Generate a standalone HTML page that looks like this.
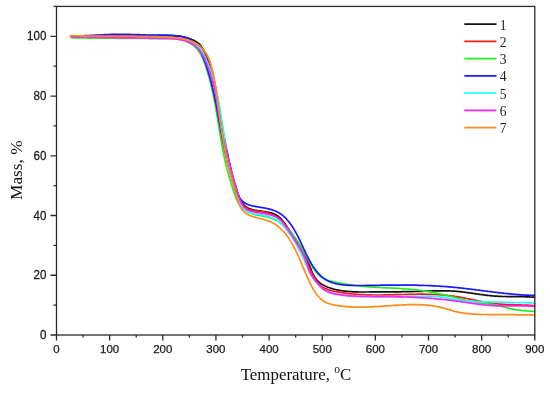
<!DOCTYPE html>
<html><head><meta charset="utf-8"><style>
html,body{margin:0;padding:0;background:#fff;}
svg{display:block;}
.tl{font-family:"Liberation Sans",Arial,sans-serif;font-size:11.6px;fill:#1a1a1a;stroke:#1a1a1a;stroke-width:0.25px;}
.ti{font-family:"Liberation Serif","Times New Roman",serif;font-size:16.9px;fill:#111;}
.lg{font-family:"Liberation Serif","Times New Roman",serif;font-size:13.6px;fill:#222;}
</style></head><body>
<svg width="550" height="393" viewBox="0 0 550 393">
<rect width="550" height="393" fill="#fff"/>

<path d="M70.7,36.1 71.5,36.1 72.2,36.1 72.9,36.0 73.6,36.0 74.3,36.0 75.0,36.0 75.7,35.9 76.4,35.9 77.1,35.9 77.8,35.9 78.5,35.9 79.2,35.9 79.9,35.8 80.7,35.8 81.4,35.8 82.1,35.8 82.8,35.8 83.5,35.8 84.2,35.8 84.9,35.7 85.6,35.7 86.3,35.7 87.0,35.7 87.7,35.7 88.4,35.7 89.1,35.7 89.8,35.7 90.5,35.7 91.2,35.7 91.9,35.6 92.6,35.6 93.3,35.6 94.0,35.6 94.7,35.6 95.4,35.6 96.1,35.6 96.8,35.6 97.5,35.6 98.2,35.6 98.9,35.6 99.6,35.6 100.3,35.6 101.0,35.6 101.7,35.6 102.5,35.6 103.2,35.6 103.9,35.6 104.6,35.6 105.3,35.6 106.0,35.6 106.7,35.6 107.4,35.6 108.1,35.6 108.8,35.6 109.5,35.6 110.2,35.6 110.9,35.6 111.6,35.6 112.3,35.6 113.0,35.6 113.7,35.6 114.4,35.6 115.1,35.6 115.8,35.6 116.5,35.6 117.2,35.6 117.9,35.6 118.6,35.6 119.3,35.6 120.0,35.6 120.7,35.6 121.4,35.6 122.1,35.6 122.8,35.6 123.5,35.6 124.2,35.6 124.9,35.6 125.6,35.6 126.3,35.6 127.0,35.7 127.7,35.7 128.4,35.7 129.1,35.7 129.8,35.7 130.5,35.7 131.2,35.7 131.9,35.7 132.6,35.7 133.3,35.7 134.0,35.7 134.7,35.7 135.4,35.7 136.1,35.7 136.8,35.7 137.5,35.7 138.2,35.7 138.9,35.7 139.6,35.7 140.3,35.7 141.0,35.7 141.7,35.7 142.4,35.7 143.1,35.7 143.8,35.7 144.5,35.7 145.2,35.7 145.9,35.7 146.6,35.7 147.4,35.7 148.1,35.7 148.8,35.7 149.5,35.7 150.2,35.7 150.9,35.7 151.6,35.7 152.3,35.7 153.0,35.7 153.7,35.7 154.4,35.7 155.1,35.7 155.8,35.7 156.5,35.7 157.2,35.7 157.9,35.7 158.7,35.7 159.4,35.7 160.1,35.7 160.8,35.6 161.5,35.6 162.2,35.6 162.9,35.6 163.6,35.6 164.3,35.6 165.0,35.6 165.7,35.6 166.5,35.6 167.2,35.6 167.9,35.6 168.6,35.6 169.3,35.6 170.0,35.6 170.7,35.7 171.4,35.7 172.1,35.7 172.8,35.7 173.5,35.8 174.2,35.8 174.9,35.8 175.6,35.9 176.3,36.0 177.0,36.0 177.7,36.1 178.4,36.2 179.1,36.2 179.8,36.3 180.5,36.4 181.1,36.5 181.8,36.6 182.5,36.8 183.2,36.9 183.9,37.0 184.5,37.2 185.2,37.3 185.9,37.5 186.6,37.7 187.2,37.9 187.9,38.0 188.6,38.3 189.2,38.5 189.9,38.7 190.5,38.9 191.2,39.2 191.8,39.5 192.5,39.7 193.1,40.0 193.8,40.3 194.4,40.7 195.0,41.0 195.6,41.3 196.2,41.7 196.8,42.1 197.4,42.5 198.0,42.9 198.5,43.3 199.1,43.8 199.6,44.3 200.0,44.8 200.5,45.3 200.9,45.8 201.3,46.4 201.7,47.0 202.1,47.5 202.4,48.1 202.8,48.8 203.1,49.4 203.4,50.0 203.7,50.7 204.0,51.3 204.3,51.9 204.6,52.6 204.9,53.2 205.1,53.9 205.4,54.5 205.7,55.2 206.0,55.9 206.3,56.5 206.5,57.2 206.8,57.8 207.1,58.5 207.3,59.1 207.6,59.8 207.8,60.4 208.1,61.1 208.3,61.8 208.6,62.4 208.8,63.1 209.1,63.8 209.3,64.4 209.6,65.1 209.8,65.7 210.0,66.4 210.2,67.1 210.5,67.7 210.7,68.4 210.9,69.1 211.1,69.8 211.3,70.4 211.5,71.1 211.7,71.8 211.9,72.4 212.1,73.1 212.3,73.8 212.5,74.5 212.7,75.1 212.9,75.8 213.1,76.5 213.2,77.2 213.4,77.9 213.6,78.5 213.8,79.2 213.9,79.9 214.1,80.6 214.3,81.3 214.4,81.9 214.6,82.6 214.7,83.3 214.9,84.0 215.0,84.7 215.2,85.4 215.3,86.0 215.5,86.7 215.6,87.4 215.7,88.1 215.9,88.8 216.0,89.5 216.2,90.2 216.3,90.8 216.4,91.5 216.5,92.2 216.7,92.9 216.8,93.6 216.9,94.3 217.1,95.0 217.2,95.7 217.3,96.4 217.4,97.0 217.5,97.7 217.7,98.4 217.8,99.1 217.9,99.8 218.0,100.5 218.1,101.2 218.2,101.9 218.3,102.6 218.5,103.3 218.6,104.0 218.7,104.7 218.8,105.4 218.9,106.1 219.0,106.7 219.1,107.4 219.2,108.1 219.4,108.8 219.5,109.5 219.6,110.2 219.7,110.9 219.8,111.6 219.9,112.3 220.0,113.0 220.1,113.7 220.3,114.4 220.4,115.1 220.5,115.8 220.6,116.5 220.7,117.2 220.8,117.9 220.9,118.6 221.1,119.3 221.2,119.9 221.3,120.6 221.4,121.3 221.5,122.0 221.6,122.7 221.8,123.4 221.9,124.1 222.0,124.8 222.1,125.5 222.2,126.2 222.4,126.9 222.5,127.6 222.6,128.3 222.7,129.0 222.8,129.7 223.0,130.4 223.1,131.1 223.2,131.7 223.3,132.4 223.5,133.1 223.6,133.8 223.7,134.5 223.8,135.2 224.0,135.9 224.1,136.6 224.2,137.3 224.3,138.0 224.5,138.7 224.6,139.4 224.7,140.0 224.9,140.7 225.0,141.4 225.1,142.1 225.3,142.8 225.4,143.5 225.5,144.2 225.7,144.9 225.8,145.6 225.9,146.2 226.1,146.9 226.2,147.6 226.3,148.3 226.5,149.0 226.6,149.7 226.8,150.4 226.9,151.0 227.0,151.7 227.2,152.4 227.3,153.1 227.5,153.8 227.6,154.5 227.8,155.1 227.9,155.8 228.1,156.5 228.2,157.2 228.4,157.9 228.5,158.6 228.7,159.2 228.8,159.9 229.0,160.6 229.1,161.3 229.3,162.0 229.5,162.6 229.6,163.3 229.8,164.0 229.9,164.7 230.1,165.4 230.3,166.0 230.4,166.7 230.6,167.4 230.8,168.1 230.9,168.8 231.1,169.4 231.3,170.1 231.4,170.8 231.6,171.5 231.8,172.2 232.0,172.8 232.1,173.5 232.3,174.2 232.5,174.9 232.7,175.6 232.9,176.2 233.0,176.9 233.2,177.6 233.4,178.3 233.6,179.0 233.8,179.6 234.0,180.3 234.2,181.0 234.4,181.7 234.6,182.4 234.8,183.1 235.0,183.7 235.2,184.4 235.4,185.1 235.6,185.8 235.8,186.5 236.0,187.2 236.2,187.9 236.4,188.5 236.6,189.2 236.8,189.9 237.0,190.6 237.2,191.3 237.5,192.0 237.7,192.7 237.9,193.4 238.1,194.0 238.4,194.7 238.6,195.4 238.9,196.1 239.1,196.7 239.4,197.4 239.6,198.0 239.9,198.7 240.2,199.3 240.5,199.9 240.8,200.5 241.1,201.1 241.5,201.7 241.8,202.3 242.2,202.8 242.6,203.4 243.0,203.9 243.4,204.4 243.8,204.9 244.3,205.3 244.7,205.8 245.2,206.2 245.7,206.6 246.3,207.0 246.8,207.3 247.4,207.7 248.0,208.0 248.6,208.3 249.2,208.6 249.9,208.8 250.5,209.0 251.2,209.3 251.9,209.5 252.5,209.7 253.2,209.8 253.9,210.0 254.7,210.2 255.4,210.3 256.1,210.4 256.8,210.6 257.6,210.7 258.3,210.8 259.1,210.9 259.8,211.0 260.5,211.1 261.3,211.2 262.0,211.3 262.7,211.4 263.5,211.5 264.2,211.6 264.9,211.7 265.6,211.8 266.4,211.9 267.1,212.0 267.8,212.2 268.5,212.3 269.2,212.4 269.8,212.6 270.5,212.8 271.2,212.9 271.8,213.1 272.5,213.3 273.1,213.6 273.7,213.8 274.3,214.1 274.9,214.3 275.5,214.6 276.1,214.9 276.7,215.3 277.2,215.7 277.8,216.0 278.3,216.4 278.8,216.9 279.3,217.3 279.8,217.7 280.3,218.2 280.8,218.7 281.3,219.2 281.7,219.7 282.2,220.2 282.6,220.8 283.1,221.3 283.5,221.9 283.9,222.4 284.4,223.0 284.8,223.6 285.2,224.1 285.6,224.7 286.0,225.3 286.4,225.9 286.8,226.5 287.3,227.1 287.7,227.7 288.1,228.3 288.5,228.8 288.9,229.4 289.3,230.0 289.7,230.6 290.1,231.2 290.5,231.8 290.9,232.4 291.3,232.9 291.7,233.5 292.1,234.1 292.5,234.7 292.9,235.3 293.3,235.9 293.7,236.5 294.1,237.0 294.5,237.6 294.9,238.2 295.3,238.8 295.6,239.4 296.0,240.0 296.4,240.6 296.8,241.1 297.2,241.7 297.5,242.3 297.9,242.9 298.3,243.5 298.7,244.1 299.0,244.7 299.4,245.3 299.8,245.9 300.1,246.5 300.5,247.1 300.8,247.7 301.2,248.3 301.5,248.9 301.9,249.5 302.2,250.1 302.5,250.7 302.9,251.3 303.2,251.9 303.5,252.5 303.9,253.1 304.2,253.7 304.5,254.3 304.8,255.0 305.1,255.6 305.4,256.2 305.8,256.8 306.1,257.5 306.3,258.1 306.6,258.7 306.9,259.3 307.2,260.0 307.5,260.6 307.8,261.3 308.0,261.9 308.3,262.5 308.6,263.2 308.8,263.8 309.1,264.5 309.3,265.1 309.6,265.8 309.9,266.5 310.1,267.1 310.4,267.8 310.6,268.4 310.9,269.1 311.2,269.8 311.5,270.5 311.7,271.1 312.0,271.8 312.3,272.5 312.6,273.1 313.0,273.8 313.3,274.4 313.6,275.1 314.0,275.7 314.3,276.4 314.7,277.0 315.1,277.6 315.5,278.2 315.9,278.8 316.3,279.3 316.7,279.8 317.2,280.4 317.7,280.9 318.2,281.4 318.7,281.8 319.2,282.3 319.7,282.7 320.2,283.1 320.8,283.5 321.3,283.9 321.9,284.3 322.5,284.6 323.1,285.0 323.7,285.3 324.3,285.6 324.9,285.9 325.5,286.2 326.2,286.5 326.8,286.8 327.5,287.1 328.1,287.3 328.8,287.5 329.4,287.8 330.1,288.0 330.7,288.2 331.4,288.4 332.1,288.6 332.7,288.8 333.4,289.0 334.1,289.2 334.8,289.3 335.4,289.5 336.1,289.7 336.8,289.8 337.5,290.0 338.2,290.1 338.8,290.2 339.5,290.3 340.2,290.5 340.9,290.6 341.6,290.7 342.3,290.8 343.0,290.9 343.7,291.0 344.4,291.1 345.1,291.1 345.7,291.2 346.4,291.3 347.1,291.4 347.8,291.4 348.5,291.5 349.2,291.5 349.9,291.6 350.6,291.6 351.3,291.7 352.0,291.7 352.7,291.8 353.5,291.8 354.2,291.8 354.9,291.9 355.6,291.9 356.3,291.9 357.0,291.9 357.7,291.9 358.4,292.0 359.1,292.0 359.8,292.0 360.5,292.0 361.2,292.0 361.9,292.0 362.6,292.0 363.4,292.0 364.1,292.0 364.8,292.0 365.5,292.0 366.2,292.0 366.9,292.0 367.6,292.0 368.3,292.0 369.0,292.0 369.7,292.0 370.4,291.9 371.1,291.9 371.9,291.9 372.6,291.9 373.3,291.9 374.0,291.9 374.7,291.9 375.4,291.9 376.1,291.9 376.8,291.9 377.5,291.9 378.2,291.9 378.9,291.9 379.6,291.9 380.3,291.9 381.0,291.9 381.7,291.9 382.4,291.9 383.1,291.9 383.8,291.9 384.5,291.9 385.2,291.9 385.9,291.9 386.6,291.8 387.3,291.8 388.0,291.8 388.7,291.8 389.4,291.8 390.2,291.8 390.9,291.8 391.6,291.8 392.3,291.8 393.0,291.8 393.7,291.8 394.4,291.8 395.1,291.8 395.8,291.8 396.5,291.8 397.2,291.8 397.9,291.8 398.6,291.8 399.3,291.8 400.0,291.8 400.7,291.8 401.3,291.8 402.0,291.7 402.7,291.7 403.4,291.7 404.1,291.7 404.8,291.7 405.5,291.7 406.2,291.7 406.9,291.7 407.6,291.7 408.3,291.7 409.0,291.6 409.7,291.6 410.4,291.6 411.1,291.6 411.8,291.6 412.5,291.6 413.3,291.5 414.0,291.5 414.7,291.5 415.4,291.5 416.1,291.5 416.8,291.5 417.5,291.4 418.2,291.4 418.9,291.4 419.6,291.4 420.3,291.3 421.0,291.3 421.7,291.3 422.4,291.3 423.1,291.2 423.8,291.2 424.5,291.2 425.2,291.2 425.9,291.1 426.6,291.1 427.3,291.1 428.0,291.1 428.7,291.0 429.4,291.0 430.1,291.0 430.8,291.0 431.5,291.0 432.2,290.9 432.9,290.9 433.6,290.9 434.3,290.9 435.0,290.9 435.7,290.8 436.5,290.8 437.2,290.8 437.9,290.8 438.6,290.8 439.3,290.8 440.0,290.8 440.7,290.8 441.4,290.8 442.1,290.8 442.8,290.8 443.5,290.8 444.2,290.8 444.9,290.8 445.6,290.8 446.3,290.8 447.0,290.8 447.7,290.9 448.4,290.9 449.1,290.9 449.8,290.9 450.5,291.0 451.2,291.0 451.9,291.0 452.6,291.1 453.3,291.1 454.0,291.2 454.7,291.2 455.4,291.3 456.1,291.3 456.8,291.4 457.5,291.4 458.2,291.5 458.9,291.6 459.6,291.6 460.3,291.7 461.0,291.8 461.7,291.9 462.4,291.9 463.1,292.0 463.8,292.1 464.5,292.2 465.2,292.3 465.9,292.4 466.6,292.5 467.3,292.6 468.0,292.7 468.7,292.8 469.4,292.9 470.1,292.9 470.7,293.0 471.4,293.1 472.1,293.2 472.8,293.3 473.5,293.5 474.2,293.6 474.9,293.7 475.6,293.8 476.3,293.9 477.0,294.0 477.7,294.1 478.4,294.2 479.1,294.3 479.8,294.4 480.5,294.5 481.2,294.6 481.9,294.7 482.6,294.7 483.3,294.8 484.0,294.9 484.7,295.0 485.4,295.1 486.1,295.2 486.8,295.3 487.5,295.4 488.2,295.4 488.9,295.5 489.6,295.6 490.2,295.7 490.9,295.7 491.6,295.8 492.3,295.9 493.0,295.9 493.7,296.0 494.4,296.1 495.1,296.1 495.8,296.2 496.5,296.2 497.2,296.2 498.0,296.3 498.7,296.3 499.4,296.4 500.1,296.4 500.8,296.4 501.5,296.4 502.2,296.5 502.9,296.5 503.6,296.5 504.3,296.5 505.0,296.5 505.7,296.5 506.4,296.6 507.1,296.6 507.8,296.6 508.5,296.6 509.2,296.6 509.9,296.6 510.6,296.6 511.3,296.6 512.0,296.6 512.7,296.6 513.4,296.6 514.1,296.6 514.8,296.6 515.5,296.6 516.2,296.6 516.9,296.6 517.7,296.6 518.4,296.6 519.1,296.7 519.8,296.7 520.5,296.7 521.2,296.7 521.9,296.7 522.6,296.7 523.3,296.7 524.0,296.7 524.7,296.7 525.4,296.8 526.1,296.8 526.8,296.8 527.5,296.8 528.2,296.9 528.9,296.9 529.6,296.9 530.3,297.0 531.0,297.0 531.7,297.0 532.4,297.1 533.1,297.1 533.8,297.2 534.5,297.3" fill="none" stroke="#111111" stroke-width="1.7" stroke-linejoin="round" stroke-linecap="round"/>
<path d="M70.8,36.6 71.5,36.6 72.2,36.6 72.9,36.6 73.6,36.6 74.3,36.7 75.0,36.7 75.7,36.7 76.4,36.7 77.1,36.7 77.8,36.7 78.5,36.7 79.2,36.7 80.0,36.7 80.7,36.7 81.4,36.7 82.1,36.8 82.8,36.8 83.5,36.8 84.2,36.8 84.9,36.8 85.6,36.8 86.3,36.8 87.0,36.8 87.7,36.8 88.4,36.8 89.1,36.8 89.8,36.9 90.5,36.9 91.2,36.9 91.9,36.9 92.6,36.9 93.3,36.9 94.0,36.9 94.7,36.9 95.4,36.9 96.1,36.9 96.8,36.9 97.6,37.0 98.3,37.0 99.0,37.0 99.7,37.0 100.4,37.0 101.1,37.0 101.8,37.0 102.5,37.0 103.2,37.0 103.9,37.0 104.6,37.0 105.3,37.0 106.0,37.1 106.7,37.1 107.4,37.1 108.1,37.1 108.8,37.1 109.5,37.1 110.2,37.1 110.9,37.1 111.6,37.1 112.3,37.1 113.0,37.1 113.8,37.1 114.5,37.1 115.2,37.2 115.9,37.2 116.6,37.2 117.3,37.2 118.0,37.2 118.7,37.2 119.4,37.2 120.1,37.2 120.8,37.2 121.5,37.2 122.2,37.2 122.9,37.2 123.6,37.2 124.3,37.3 125.0,37.3 125.7,37.3 126.4,37.3 127.1,37.3 127.8,37.3 128.5,37.3 129.2,37.3 130.0,37.3 130.7,37.3 131.4,37.3 132.1,37.3 132.8,37.3 133.5,37.3 134.2,37.4 134.9,37.4 135.6,37.4 136.3,37.4 137.0,37.4 137.7,37.4 138.4,37.4 139.1,37.4 139.8,37.4 140.5,37.4 141.2,37.4 141.9,37.4 142.6,37.4 143.3,37.4 144.0,37.5 144.7,37.5 145.4,37.5 146.1,37.5 146.9,37.5 147.6,37.5 148.3,37.5 149.0,37.5 149.7,37.5 150.4,37.5 151.1,37.5 151.8,37.5 152.5,37.5 153.2,37.5 153.9,37.5 154.6,37.6 155.3,37.6 156.0,37.6 156.7,37.6 157.4,37.6 158.1,37.6 158.8,37.6 159.5,37.6 160.2,37.6 160.9,37.6 161.6,37.6 162.3,37.6 163.0,37.6 163.7,37.6 164.4,37.6 165.1,37.6 165.9,37.6 166.6,37.7 167.3,37.7 168.0,37.7 168.7,37.7 169.4,37.7 170.1,37.7 170.8,37.7 171.5,37.7 172.2,37.8 172.9,37.8 173.6,37.8 174.3,37.9 175.0,37.9 175.7,37.9 176.4,38.0 177.1,38.1 177.8,38.1 178.5,38.2 179.2,38.3 179.9,38.3 180.6,38.4 181.3,38.5 182.0,38.6 182.7,38.8 183.4,38.9 184.1,39.0 184.8,39.2 185.5,39.3 186.2,39.5 186.9,39.7 187.5,39.9 188.2,40.1 188.9,40.3 189.6,40.5 190.2,40.7 190.9,41.0 191.6,41.2 192.2,41.5 192.9,41.8 193.5,42.1 194.1,42.4 194.7,42.8 195.3,43.1 195.9,43.5 196.5,43.9 197.1,44.2 197.7,44.7 198.2,45.1 198.7,45.5 199.3,46.0 199.8,46.4 200.3,46.9 200.8,47.4 201.3,47.9 201.7,48.4 202.2,48.9 202.6,49.5 203.1,50.0 203.5,50.6 203.9,51.1 204.3,51.7 204.7,52.3 205.1,52.8 205.5,53.4 205.8,54.0 206.2,54.6 206.5,55.3 206.8,55.9 207.2,56.5 207.5,57.1 207.8,57.8 208.1,58.4 208.3,59.0 208.6,59.7 208.9,60.3 209.1,61.0 209.4,61.6 209.6,62.3 209.8,63.0 210.1,63.6 210.3,64.3 210.5,65.0 210.7,65.6 210.9,66.3 211.1,67.0 211.2,67.7 211.4,68.3 211.6,69.0 211.8,69.7 211.9,70.4 212.1,71.1 212.2,71.8 212.4,72.5 212.5,73.1 212.7,73.8 212.8,74.5 213.0,75.2 213.1,75.9 213.3,76.6 213.4,77.3 213.5,78.0 213.7,78.7 213.8,79.4 213.9,80.1 214.1,80.8 214.2,81.5 214.3,82.1 214.5,82.8 214.6,83.5 214.7,84.2 214.8,84.9 215.0,85.6 215.1,86.3 215.2,87.0 215.3,87.7 215.5,88.4 215.6,89.1 215.7,89.8 215.8,90.5 215.9,91.2 216.1,91.9 216.2,92.6 216.3,93.2 216.4,93.9 216.5,94.6 216.6,95.3 216.7,96.0 216.9,96.7 217.0,97.4 217.1,98.1 217.2,98.8 217.3,99.5 217.4,100.2 217.5,100.9 217.6,101.6 217.7,102.3 217.9,103.0 218.0,103.7 218.1,104.4 218.2,105.1 218.3,105.8 218.4,106.5 218.5,107.2 218.6,107.8 218.7,108.5 218.8,109.2 218.9,109.9 219.0,110.6 219.1,111.3 219.2,112.0 219.4,112.7 219.5,113.4 219.6,114.1 219.7,114.8 219.8,115.5 219.9,116.2 220.0,116.9 220.1,117.6 220.2,118.3 220.3,119.0 220.4,119.7 220.5,120.4 220.6,121.1 220.7,121.8 220.8,122.4 221.0,123.1 221.1,123.8 221.2,124.5 221.3,125.2 221.4,125.9 221.5,126.6 221.6,127.3 221.7,128.0 221.8,128.7 221.9,129.4 222.1,130.1 222.2,130.8 222.3,131.5 222.4,132.2 222.5,132.9 222.6,133.5 222.7,134.2 222.9,134.9 223.0,135.6 223.1,136.3 223.2,137.0 223.3,137.7 223.4,138.4 223.6,139.1 223.7,139.8 223.8,140.5 223.9,141.2 224.1,141.9 224.2,142.5 224.3,143.2 224.4,143.9 224.6,144.6 224.7,145.3 224.8,146.0 225.0,146.7 225.1,147.4 225.2,148.1 225.4,148.8 225.5,149.5 225.6,150.1 225.8,150.8 225.9,151.5 226.1,152.2 226.2,152.9 226.3,153.6 226.5,154.3 226.6,155.0 226.8,155.6 226.9,156.3 227.1,157.0 227.2,157.7 227.4,158.4 227.5,159.1 227.7,159.8 227.8,160.5 228.0,161.1 228.2,161.8 228.3,162.5 228.5,163.2 228.7,163.9 228.8,164.6 229.0,165.3 229.2,165.9 229.3,166.6 229.5,167.3 229.7,168.0 229.9,168.7 230.0,169.4 230.2,170.0 230.4,170.7 230.6,171.4 230.8,172.1 230.9,172.8 231.1,173.4 231.3,174.1 231.5,174.8 231.7,175.5 231.9,176.2 232.1,176.8 232.3,177.5 232.5,178.2 232.7,178.9 232.9,179.5 233.1,180.2 233.3,180.9 233.5,181.6 233.7,182.2 233.9,182.9 234.1,183.6 234.3,184.3 234.6,184.9 234.8,185.6 235.0,186.3 235.2,187.0 235.4,187.6 235.7,188.3 235.9,189.0 236.1,189.6 236.4,190.3 236.6,191.0 236.8,191.7 237.1,192.3 237.3,193.0 237.5,193.7 237.8,194.3 238.0,195.0 238.3,195.7 238.5,196.3 238.8,197.0 239.0,197.7 239.3,198.3 239.6,199.0 239.8,199.6 240.1,200.3 240.4,200.9 240.7,201.5 241.0,202.1 241.3,202.7 241.7,203.3 242.0,203.9 242.4,204.4 242.8,205.0 243.3,205.5 243.7,206.0 244.2,206.4 244.7,206.8 245.2,207.3 245.8,207.6 246.3,208.0 246.9,208.3 247.5,208.7 248.1,209.0 248.7,209.2 249.3,209.5 250.0,209.7 250.6,209.9 251.3,210.1 252.0,210.3 252.7,210.4 253.4,210.6 254.1,210.7 254.8,210.8 255.5,210.9 256.2,211.0 257.0,211.1 257.7,211.2 258.4,211.3 259.2,211.4 259.9,211.5 260.6,211.6 261.4,211.7 262.1,211.8 262.8,211.9 263.5,212.0 264.3,212.1 265.0,212.3 265.7,212.4 266.4,212.6 267.1,212.7 267.7,212.9 268.4,213.1 269.1,213.3 269.8,213.5 270.4,213.8 271.1,214.0 271.7,214.3 272.4,214.5 273.0,214.8 273.6,215.1 274.2,215.4 274.8,215.7 275.4,216.1 276.0,216.4 276.6,216.8 277.2,217.1 277.7,217.5 278.3,217.9 278.8,218.3 279.4,218.7 279.9,219.1 280.4,219.6 280.9,220.0 281.4,220.5 281.9,221.0 282.4,221.5 282.9,222.0 283.3,222.5 283.8,223.0 284.2,223.6 284.7,224.1 285.1,224.7 285.5,225.2 285.9,225.8 286.3,226.4 286.8,226.9 287.2,227.5 287.6,228.1 288.0,228.7 288.3,229.3 288.7,229.9 289.1,230.5 289.5,231.1 289.9,231.7 290.3,232.4 290.7,233.0 291.0,233.6 291.4,234.2 291.8,234.8 292.2,235.4 292.6,236.0 293.0,236.6 293.3,237.2 293.7,237.8 294.1,238.4 294.5,239.0 294.9,239.6 295.3,240.2 295.7,240.8 296.1,241.3 296.5,241.9 296.9,242.5 297.2,243.1 297.6,243.7 298.0,244.3 298.4,244.9 298.8,245.5 299.2,246.0 299.5,246.6 299.9,247.2 300.3,247.8 300.6,248.4 301.0,249.0 301.3,249.6 301.7,250.2 302.0,250.8 302.4,251.4 302.7,252.0 303.0,252.6 303.3,253.2 303.6,253.9 303.9,254.5 304.2,255.1 304.5,255.7 304.8,256.4 305.1,257.0 305.3,257.7 305.6,258.3 305.9,258.9 306.1,259.6 306.4,260.2 306.7,260.9 306.9,261.5 307.2,262.2 307.4,262.9 307.7,263.5 307.9,264.2 308.2,264.8 308.5,265.5 308.7,266.1 309.0,266.8 309.3,267.4 309.5,268.1 309.8,268.8 310.1,269.4 310.4,270.1 310.7,270.7 311.0,271.3 311.3,272.0 311.6,272.6 311.9,273.3 312.3,273.9 312.6,274.5 312.9,275.2 313.3,275.8 313.6,276.4 314.0,277.0 314.4,277.7 314.7,278.3 315.1,278.9 315.5,279.5 315.9,280.1 316.3,280.7 316.7,281.3 317.1,281.9 317.6,282.4 318.0,283.0 318.5,283.5 318.9,284.0 319.4,284.5 319.9,285.0 320.4,285.5 320.9,285.9 321.5,286.3 322.0,286.7 322.6,287.1 323.2,287.4 323.8,287.8 324.4,288.1 325.0,288.4 325.6,288.7 326.2,288.9 326.9,289.2 327.5,289.4 328.2,289.7 328.8,289.9 329.5,290.1 330.2,290.3 330.8,290.4 331.5,290.6 332.2,290.8 332.9,291.0 333.6,291.1 334.3,291.3 335.0,291.4 335.6,291.5 336.3,291.7 337.0,291.8 337.7,291.9 338.4,292.1 339.1,292.2 339.8,292.3 340.5,292.4 341.2,292.5 341.9,292.6 342.6,292.8 343.3,292.9 344.0,293.0 344.7,293.1 345.4,293.2 346.1,293.2 346.8,293.3 347.5,293.4 348.2,293.5 348.9,293.6 349.6,293.7 350.3,293.7 351.0,293.8 351.7,293.9 352.4,294.0 353.1,294.0 353.8,294.1 354.5,294.1 355.2,294.2 355.9,294.3 356.6,294.3 357.3,294.4 358.0,294.4 358.7,294.5 359.4,294.5 360.1,294.5 360.8,294.6 361.5,294.6 362.2,294.6 362.9,294.7 363.6,294.7 364.3,294.7 365.0,294.8 365.7,294.8 366.4,294.8 367.1,294.8 367.8,294.9 368.5,294.9 369.2,294.9 369.9,294.9 370.6,294.9 371.3,294.9 372.0,295.0 372.7,295.0 373.4,295.0 374.1,295.0 374.8,295.0 375.5,295.0 376.2,295.0 376.9,295.0 377.7,295.0 378.4,295.0 379.1,295.0 379.8,295.0 380.5,295.0 381.2,295.0 381.9,295.0 382.6,295.0 383.3,294.9 384.0,294.9 384.7,294.9 385.4,294.9 386.1,294.9 386.8,294.9 387.5,294.9 388.2,294.9 388.9,294.9 389.6,294.8 390.4,294.8 391.1,294.8 391.8,294.8 392.5,294.8 393.2,294.8 393.9,294.7 394.6,294.7 395.3,294.7 396.0,294.7 396.7,294.7 397.4,294.7 398.1,294.6 398.8,294.6 399.5,294.6 400.2,294.6 400.9,294.6 401.7,294.5 402.4,294.5 403.1,294.5 403.8,294.5 404.5,294.5 405.2,294.5 405.9,294.4 406.6,294.4 407.3,294.4 408.0,294.4 408.7,294.4 409.4,294.4 410.1,294.3 410.8,294.3 411.5,294.3 412.2,294.3 412.9,294.3 413.7,294.3 414.4,294.3 415.1,294.3 415.8,294.3 416.5,294.3 417.2,294.2 417.9,294.2 418.6,294.2 419.3,294.2 420.0,294.2 420.7,294.2 421.4,294.2 422.1,294.2 422.8,294.2 423.5,294.2 424.2,294.2 424.9,294.2 425.6,294.3 426.3,294.3 427.0,294.3 427.7,294.3 428.4,294.3 429.1,294.3 429.8,294.3 430.5,294.4 431.2,294.4 431.9,294.4 432.6,294.4 433.3,294.5 434.0,294.5 434.7,294.5 435.5,294.5 436.2,294.6 436.9,294.6 437.6,294.7 438.3,294.7 439.0,294.7 439.7,294.8 440.4,294.8 441.1,294.9 441.8,294.9 442.4,295.0 443.1,295.0 443.8,295.1 444.5,295.2 445.2,295.2 445.9,295.3 446.6,295.4 447.3,295.4 448.0,295.5 448.7,295.6 449.4,295.7 450.1,295.7 450.8,295.8 451.5,295.9 452.2,296.0 452.9,296.1 453.6,296.2 454.3,296.3 455.0,296.4 455.7,296.5 456.4,296.6 457.1,296.7 457.8,296.8 458.5,296.9 459.1,297.1 459.8,297.2 460.5,297.3 461.2,297.4 461.9,297.6 462.6,297.7 463.3,297.8 464.0,298.0 464.7,298.1 465.4,298.2 466.1,298.4 466.8,298.5 467.5,298.6 468.1,298.8 468.8,298.9 469.5,299.1 470.2,299.2 470.9,299.3 471.6,299.5 472.3,299.6 473.0,299.8 473.7,299.9 474.4,300.1 475.1,300.2 475.7,300.3 476.4,300.5 477.1,300.6 477.8,300.8 478.5,300.9 479.2,301.0 479.9,301.2 480.6,301.3 481.3,301.4 482.0,301.6 482.7,301.7 483.3,301.8 484.0,302.0 484.7,302.1 485.4,302.2 486.1,302.3 486.8,302.4 487.5,302.6 488.2,302.7 488.9,302.8 489.6,302.9 490.3,303.0 491.0,303.1 491.7,303.2 492.4,303.3 493.1,303.4 493.8,303.5 494.5,303.6 495.2,303.6 495.9,303.7 496.5,303.8 497.2,303.9 497.9,303.9 498.6,304.0 499.3,304.0 500.0,304.1 500.7,304.1 501.4,304.2 502.1,304.2 502.8,304.3 503.5,304.3 504.2,304.4 504.9,304.4 505.6,304.4 506.3,304.5 507.0,304.5 507.8,304.5 508.5,304.6 509.2,304.6 509.9,304.6 510.6,304.6 511.3,304.7 512.0,304.7 512.7,304.7 513.4,304.7 514.1,304.7 514.8,304.8 515.5,304.8 516.2,304.8 516.9,304.8 517.6,304.8 518.3,304.9 519.0,304.9 519.7,304.9 520.4,304.9 521.1,304.9 521.8,305.0 522.5,305.0 523.2,305.0 523.9,305.0 524.6,305.1 525.3,305.1 526.1,305.1 526.8,305.2 527.5,305.2 528.2,305.2 528.9,305.3 529.6,305.3 530.3,305.4 531.0,305.4 531.7,305.5 532.4,305.5 533.1,305.6 533.8,305.6 534.5,305.7" fill="none" stroke="#ff1a1a" stroke-width="1.7" stroke-linejoin="round" stroke-linecap="round"/>
<path d="M72.0,37.8 72.7,37.8 73.4,37.8 74.1,37.8 74.8,37.8 75.5,37.8 76.2,37.9 76.8,37.9 77.5,37.9 78.2,37.9 78.9,37.9 79.6,37.9 80.3,37.9 81.0,38.0 81.7,38.0 82.4,38.0 83.1,38.0 83.7,38.0 84.4,38.0 85.1,38.0 85.8,38.0 86.5,38.0 87.2,38.1 87.9,38.1 88.6,38.1 89.3,38.1 90.0,38.1 90.7,38.1 91.4,38.1 92.0,38.1 92.7,38.1 93.4,38.1 94.1,38.1 94.8,38.1 95.5,38.1 96.2,38.1 96.9,38.1 97.6,38.2 98.3,38.2 99.0,38.2 99.7,38.2 100.4,38.2 101.1,38.2 101.8,38.2 102.5,38.2 103.1,38.2 103.8,38.2 104.5,38.2 105.2,38.2 105.9,38.2 106.6,38.2 107.3,38.2 108.0,38.2 108.7,38.2 109.4,38.2 110.1,38.2 110.8,38.2 111.5,38.2 112.2,38.2 112.9,38.2 113.6,38.2 114.2,38.2 114.9,38.2 115.6,38.3 116.3,38.3 117.0,38.3 117.7,38.3 118.4,38.3 119.1,38.3 119.8,38.3 120.5,38.3 121.2,38.3 121.9,38.3 122.6,38.3 123.2,38.3 123.9,38.3 124.6,38.3 125.3,38.3 126.0,38.3 126.7,38.3 127.4,38.3 128.1,38.3 128.8,38.3 129.5,38.4 130.1,38.4 130.8,38.4 131.5,38.4 132.2,38.4 132.9,38.4 133.6,38.4 134.3,38.4 135.0,38.4 135.7,38.4 136.3,38.4 137.0,38.4 137.7,38.4 138.4,38.4 139.1,38.5 139.8,38.5 140.5,38.5 141.2,38.5 141.9,38.5 142.5,38.5 143.2,38.5 143.9,38.5 144.6,38.5 145.3,38.5 146.0,38.5 146.7,38.5 147.4,38.5 148.1,38.5 148.8,38.6 149.5,38.6 150.1,38.6 150.8,38.6 151.5,38.6 152.2,38.6 152.9,38.6 153.6,38.6 154.3,38.6 155.0,38.6 155.7,38.6 156.4,38.6 157.1,38.6 157.8,38.6 158.5,38.6 159.2,38.6 159.9,38.6 160.6,38.6 161.3,38.6 162.0,38.6 162.7,38.6 163.4,38.7 164.1,38.7 164.8,38.7 165.5,38.7 166.2,38.7 166.9,38.7 167.6,38.7 168.3,38.7 169.0,38.7 169.7,38.7 170.4,38.7 171.1,38.7 171.8,38.7 172.5,38.8 173.1,38.8 173.8,38.8 174.5,38.9 175.2,38.9 175.9,39.0 176.6,39.1 177.3,39.2 178.0,39.2 178.7,39.3 179.3,39.5 180.0,39.6 180.7,39.7 181.3,39.9 182.0,40.0 182.7,40.2 183.3,40.4 184.0,40.6 184.6,40.8 185.3,41.0 185.9,41.3 186.6,41.5 187.2,41.8 187.8,42.1 188.4,42.4 189.0,42.7 189.6,43.1 190.2,43.4 190.8,43.7 191.4,44.1 191.9,44.5 192.5,44.9 193.0,45.3 193.6,45.7 194.1,46.2 194.6,46.6 195.1,47.1 195.6,47.5 196.0,48.0 196.5,48.5 197.0,49.0 197.4,49.5 197.8,50.1 198.2,50.6 198.6,51.1 199.0,51.7 199.4,52.3 199.8,52.8 200.1,53.4 200.5,54.0 200.8,54.6 201.1,55.2 201.4,55.8 201.8,56.5 202.1,57.1 202.4,57.7 202.7,58.4 202.9,59.0 203.2,59.7 203.5,60.3 203.7,61.0 204.0,61.6 204.2,62.3 204.5,62.9 204.7,63.6 205.0,64.3 205.2,64.9 205.4,65.6 205.7,66.3 205.9,66.9 206.1,67.6 206.3,68.3 206.5,69.0 206.7,69.6 206.9,70.3 207.2,71.0 207.4,71.6 207.6,72.3 207.8,73.0 208.0,73.6 208.1,74.3 208.3,75.0 208.5,75.6 208.7,76.3 208.9,76.9 209.1,77.6 209.3,78.3 209.5,78.9 209.6,79.6 209.8,80.3 210.0,80.9 210.2,81.6 210.3,82.3 210.5,82.9 210.7,83.6 210.8,84.3 211.0,84.9 211.1,85.6 211.3,86.3 211.5,86.9 211.6,87.6 211.8,88.3 211.9,88.9 212.1,89.6 212.2,90.3 212.4,90.9 212.5,91.6 212.7,92.3 212.8,93.0 213.0,93.6 213.1,94.3 213.2,95.0 213.4,95.7 213.5,96.3 213.7,97.0 213.8,97.7 213.9,98.4 214.1,99.0 214.2,99.7 214.3,100.4 214.5,101.1 214.6,101.8 214.7,102.4 214.8,103.1 215.0,103.8 215.1,104.5 215.2,105.1 215.3,105.8 215.5,106.5 215.6,107.2 215.7,107.9 215.8,108.6 215.9,109.2 216.1,109.9 216.2,110.6 216.3,111.3 216.4,112.0 216.5,112.6 216.6,113.3 216.8,114.0 216.9,114.7 217.0,115.4 217.1,116.1 217.2,116.7 217.3,117.4 217.4,118.1 217.5,118.8 217.7,119.5 217.8,120.2 217.9,120.9 218.0,121.5 218.1,122.2 218.2,122.9 218.3,123.6 218.4,124.3 218.5,125.0 218.7,125.6 218.8,126.3 218.9,127.0 219.0,127.7 219.1,128.4 219.2,129.1 219.3,129.8 219.4,130.4 219.5,131.1 219.7,131.8 219.8,132.5 219.9,133.2 220.0,133.9 220.1,134.5 220.2,135.2 220.3,135.9 220.5,136.6 220.6,137.3 220.7,138.0 220.8,138.6 220.9,139.3 221.0,140.0 221.1,140.7 221.3,141.4 221.4,142.1 221.5,142.7 221.6,143.4 221.7,144.1 221.9,144.8 222.0,145.5 222.1,146.1 222.2,146.8 222.4,147.5 222.5,148.2 222.6,148.9 222.7,149.5 222.9,150.2 223.0,150.9 223.1,151.6 223.3,152.2 223.4,152.9 223.5,153.6 223.7,154.3 223.8,154.9 224.0,155.6 224.1,156.3 224.2,157.0 224.4,157.6 224.5,158.3 224.7,159.0 224.8,159.7 225.0,160.3 225.1,161.0 225.3,161.7 225.4,162.3 225.6,163.0 225.7,163.7 225.9,164.4 226.0,165.0 226.2,165.7 226.4,166.4 226.5,167.0 226.7,167.7 226.9,168.4 227.0,169.0 227.2,169.7 227.4,170.3 227.6,171.0 227.7,171.7 227.9,172.3 228.1,173.0 228.3,173.7 228.5,174.3 228.7,175.0 228.9,175.6 229.0,176.3 229.2,176.9 229.4,177.6 229.6,178.3 229.8,178.9 230.0,179.6 230.2,180.2 230.4,180.9 230.6,181.6 230.8,182.2 231.0,182.9 231.2,183.6 231.4,184.2 231.6,184.9 231.9,185.6 232.1,186.2 232.3,186.9 232.5,187.6 232.7,188.2 232.9,188.9 233.1,189.6 233.3,190.3 233.5,191.0 233.8,191.6 234.0,192.3 234.2,193.0 234.4,193.7 234.7,194.3 234.9,195.0 235.1,195.7 235.4,196.4 235.6,197.0 235.9,197.7 236.2,198.3 236.4,199.0 236.7,199.6 237.0,200.2 237.3,200.9 237.6,201.5 237.9,202.1 238.3,202.7 238.6,203.3 239.0,203.8 239.4,204.4 239.7,204.9 240.1,205.5 240.6,206.0 241.0,206.5 241.4,207.0 241.9,207.5 242.4,208.0 242.8,208.4 243.3,208.9 243.9,209.3 244.4,209.7 244.9,210.1 245.5,210.5 246.0,210.9 246.6,211.2 247.2,211.6 247.7,211.9 248.3,212.2 248.9,212.5 249.6,212.8 250.2,213.0 250.8,213.3 251.5,213.5 252.1,213.8 252.7,214.0 253.4,214.2 254.1,214.4 254.7,214.5 255.4,214.7 256.1,214.8 256.8,215.0 257.4,215.1 258.1,215.2 258.8,215.3 259.5,215.5 260.2,215.6 260.9,215.7 261.6,215.8 262.3,215.9 263.0,216.0 263.6,216.1 264.3,216.3 265.0,216.4 265.7,216.5 266.4,216.7 267.1,216.8 267.7,217.0 268.4,217.2 269.0,217.4 269.7,217.6 270.4,217.8 271.0,218.0 271.6,218.3 272.3,218.5 272.9,218.8 273.5,219.1 274.2,219.3 274.8,219.6 275.4,219.9 276.0,220.3 276.6,220.6 277.2,220.9 277.8,221.3 278.4,221.6 279.0,222.0 279.5,222.4 280.1,222.7 280.7,223.1 281.2,223.5 281.8,223.9 282.4,224.4 282.9,224.8 283.4,225.2 284.0,225.6 284.5,226.1 285.0,226.5 285.6,227.0 286.1,227.5 286.6,227.9 287.1,228.4 287.6,228.9 288.1,229.4 288.6,229.9 289.1,230.4 289.5,230.9 290.0,231.4 290.5,231.9 290.9,232.5 291.4,233.0 291.8,233.5 292.3,234.1 292.7,234.6 293.2,235.1 293.6,235.7 294.0,236.2 294.4,236.8 294.9,237.3 295.3,237.9 295.7,238.5 296.1,239.0 296.5,239.6 296.8,240.2 297.2,240.7 297.6,241.3 298.0,241.9 298.4,242.5 298.7,243.0 299.1,243.6 299.5,244.2 299.8,244.8 300.2,245.4 300.5,246.0 300.9,246.6 301.2,247.2 301.6,247.8 301.9,248.4 302.2,248.9 302.6,249.5 302.9,250.1 303.3,250.8 303.6,251.4 303.9,252.0 304.3,252.6 304.6,253.2 304.9,253.8 305.3,254.4 305.6,255.0 305.9,255.6 306.3,256.2 306.6,256.8 306.9,257.4 307.3,258.0 307.6,258.6 308.0,259.2 308.3,259.9 308.6,260.5 309.0,261.1 309.3,261.7 309.7,262.3 310.0,262.9 310.4,263.5 310.7,264.1 311.1,264.7 311.4,265.3 311.8,265.9 312.2,266.5 312.5,267.1 312.9,267.7 313.3,268.3 313.7,268.9 314.1,269.5 314.5,270.0 314.9,270.6 315.3,271.2 315.7,271.7 316.1,272.2 316.6,272.8 317.0,273.3 317.5,273.8 318.0,274.3 318.4,274.7 318.9,275.2 319.4,275.6 320.0,276.0 320.5,276.4 321.0,276.8 321.6,277.2 322.2,277.5 322.7,277.9 323.3,278.2 323.9,278.5 324.5,278.8 325.1,279.1 325.8,279.3 326.4,279.6 327.0,279.8 327.7,280.1 328.3,280.3 329.0,280.5 329.7,280.7 330.3,280.9 331.0,281.1 331.7,281.3 332.4,281.4 333.0,281.6 333.7,281.8 334.4,281.9 335.1,282.1 335.8,282.2 336.4,282.4 337.1,282.5 337.8,282.7 338.5,282.8 339.2,283.0 339.9,283.1 340.6,283.2 341.2,283.4 341.9,283.5 342.6,283.6 343.3,283.8 344.0,283.9 344.7,284.0 345.3,284.1 346.0,284.2 346.7,284.3 347.4,284.4 348.1,284.5 348.8,284.6 349.5,284.8 350.1,284.9 350.8,284.9 351.5,285.0 352.2,285.1 352.9,285.2 353.6,285.3 354.3,285.4 354.9,285.5 355.6,285.6 356.3,285.6 357.0,285.7 357.7,285.8 358.4,285.9 359.1,286.0 359.7,286.0 360.4,286.1 361.1,286.2 361.8,286.2 362.5,286.3 363.2,286.4 363.9,286.4 364.6,286.5 365.2,286.5 365.9,286.6 366.6,286.6 367.3,286.7 368.0,286.8 368.7,286.8 369.4,286.9 370.1,286.9 370.8,287.0 371.4,287.0 372.1,287.1 372.8,287.1 373.5,287.1 374.2,287.2 374.9,287.2 375.6,287.3 376.3,287.3 377.0,287.3 377.7,287.4 378.4,287.4 379.0,287.5 379.7,287.5 380.4,287.5 381.1,287.6 381.8,287.6 382.5,287.6 383.2,287.7 383.9,287.7 384.6,287.7 385.3,287.8 386.0,287.8 386.7,287.8 387.3,287.9 388.0,287.9 388.7,287.9 389.4,288.0 390.1,288.0 390.8,288.0 391.5,288.1 392.2,288.1 392.9,288.1 393.6,288.2 394.3,288.2 395.0,288.2 395.7,288.3 396.4,288.3 397.0,288.3 397.7,288.4 398.4,288.4 399.1,288.5 399.8,288.5 400.5,288.5 401.2,288.6 401.9,288.6 402.6,288.7 403.3,288.7 404.0,288.8 404.6,288.8 405.3,288.9 406.0,288.9 406.7,289.0 407.4,289.0 408.1,289.1 408.8,289.1 409.5,289.2 410.2,289.3 410.9,289.3 411.5,289.4 412.2,289.5 412.9,289.5 413.6,289.6 414.3,289.7 415.0,289.7 415.7,289.8 416.4,289.9 417.0,290.0 417.7,290.1 418.4,290.1 419.1,290.2 419.8,290.3 420.5,290.4 421.2,290.5 421.8,290.6 422.5,290.7 423.2,290.8 423.9,290.9 424.6,291.0 425.2,291.1 425.9,291.2 426.6,291.4 427.3,291.5 428.0,291.6 428.6,291.7 429.3,291.8 430.0,292.0 430.7,292.1 431.4,292.2 432.0,292.3 432.7,292.5 433.4,292.6 434.1,292.7 434.8,292.9 435.4,293.0 436.1,293.2 436.8,293.3 437.5,293.4 438.1,293.6 438.8,293.7 439.5,293.9 440.2,294.0 440.8,294.2 441.5,294.3 442.2,294.5 442.9,294.6 443.5,294.8 444.2,294.9 444.9,295.1 445.6,295.3 446.2,295.4 446.9,295.6 447.6,295.7 448.3,295.9 448.9,296.1 449.6,296.2 450.3,296.4 450.9,296.5 451.6,296.7 452.3,296.9 453.0,297.0 453.6,297.2 454.3,297.4 455.0,297.5 455.6,297.7 456.3,297.9 457.0,298.0 457.7,298.2 458.3,298.4 459.0,298.5 459.7,298.7 460.3,298.9 461.0,299.0 461.7,299.2 462.4,299.3 463.0,299.5 463.7,299.7 464.4,299.8 465.0,300.0 465.7,300.1 466.4,300.3 467.1,300.4 467.7,300.6 468.4,300.7 469.1,300.9 469.8,301.0 470.4,301.1 471.1,301.3 471.8,301.4 472.5,301.5 473.2,301.7 473.8,301.8 474.5,301.9 475.2,302.0 475.9,302.1 476.6,302.2 477.2,302.3 477.9,302.4 478.6,302.5 479.3,302.6 480.0,302.7 480.7,302.8 481.4,302.9 482.0,303.0 482.7,303.1 483.4,303.2 484.1,303.3 484.8,303.4 485.5,303.4 486.2,303.5 486.8,303.6 487.5,303.7 488.2,303.8 488.9,303.9 489.6,304.0 490.3,304.1 490.9,304.2 491.6,304.3 492.3,304.4 493.0,304.6 493.7,304.7 494.3,304.8 495.0,304.9 495.7,305.1 496.4,305.2 497.1,305.4 497.7,305.5 498.4,305.7 499.1,305.8 499.7,306.0 500.4,306.2 501.1,306.3 501.8,306.5 502.4,306.7 503.1,306.8 503.8,307.0 504.4,307.2 505.1,307.3 505.8,307.5 506.4,307.7 507.1,307.8 507.8,308.0 508.5,308.2 509.1,308.3 509.8,308.5 510.5,308.6 511.2,308.8 511.8,308.9 512.5,309.1 513.2,309.2 513.9,309.3 514.5,309.5 515.2,309.6 515.9,309.7 516.6,309.8 517.3,309.9 518.0,310.0 518.6,310.1 519.3,310.1 520.0,310.2 520.7,310.3 521.4,310.4 522.1,310.4 522.8,310.5 523.5,310.6 524.2,310.6 524.8,310.7 525.5,310.7 526.2,310.8 526.9,310.9 527.6,310.9 528.3,311.0 529.0,311.0 529.7,311.1 530.4,311.1 531.1,311.2 531.8,311.2 532.4,311.3 533.1,311.4 533.8,311.4 534.5,311.5" fill="none" stroke="#22ee22" stroke-width="1.7" stroke-linejoin="round" stroke-linecap="round"/>
<path d="M70.8,36.2 71.5,36.2 72.2,36.2 72.9,36.2 73.6,36.2 74.3,36.3 75.0,36.3 75.7,36.3 76.4,36.3 77.1,36.3 77.8,36.3 78.4,36.2 79.1,36.2 79.8,36.2 80.5,36.2 81.2,36.2 81.9,36.2 82.6,36.1 83.3,36.1 84.0,36.1 84.7,36.0 85.4,36.0 86.1,36.0 86.8,35.9 87.5,35.9 88.2,35.8 88.9,35.8 89.5,35.8 90.2,35.7 90.9,35.7 91.6,35.6 92.3,35.6 93.0,35.5 93.7,35.5 94.4,35.4 95.1,35.4 95.8,35.3 96.5,35.3 97.2,35.2 97.9,35.2 98.6,35.1 99.2,35.1 99.9,35.0 100.6,35.0 101.3,34.9 102.0,34.9 102.7,34.8 103.4,34.8 104.1,34.8 104.8,34.7 105.5,34.7 106.2,34.6 106.9,34.6 107.6,34.6 108.3,34.5 109.0,34.5 109.6,34.5 110.3,34.4 111.0,34.4 111.7,34.4 112.4,34.4 113.1,34.4 113.8,34.3 114.5,34.3 115.2,34.3 115.9,34.3 116.6,34.3 117.3,34.3 118.0,34.3 118.7,34.3 119.4,34.3 120.1,34.3 120.8,34.3 121.4,34.3 122.1,34.3 122.8,34.3 123.5,34.3 124.2,34.3 124.9,34.3 125.6,34.3 126.3,34.4 127.0,34.4 127.7,34.4 128.4,34.4 129.1,34.4 129.8,34.4 130.5,34.5 131.2,34.5 131.9,34.5 132.6,34.5 133.3,34.5 134.0,34.6 134.6,34.6 135.3,34.6 136.0,34.6 136.7,34.6 137.4,34.7 138.1,34.7 138.8,34.7 139.5,34.7 140.2,34.8 140.9,34.8 141.6,34.8 142.3,34.8 143.0,34.9 143.7,34.9 144.4,34.9 145.1,34.9 145.8,34.9 146.5,35.0 147.2,35.0 147.9,35.0 148.5,35.0 149.2,35.0 149.9,35.0 150.6,35.1 151.3,35.1 152.0,35.1 152.7,35.1 153.4,35.1 154.1,35.1 154.8,35.1 155.5,35.1 156.2,35.1 156.9,35.1 157.6,35.1 158.3,35.1 159.0,35.1 159.7,35.2 160.4,35.2 161.1,35.2 161.7,35.2 162.4,35.2 163.1,35.2 163.8,35.2 164.5,35.2 165.2,35.2 165.9,35.2 166.6,35.2 167.3,35.2 168.0,35.3 168.7,35.3 169.4,35.3 170.1,35.3 170.8,35.4 171.5,35.4 172.2,35.4 172.9,35.5 173.6,35.5 174.3,35.6 175.0,35.6 175.7,35.7 176.4,35.8 177.1,35.8 177.8,35.9 178.5,36.0 179.2,36.1 179.9,36.2 180.6,36.3 181.3,36.4 182.0,36.6 182.6,36.7 183.3,36.8 184.0,37.0 184.7,37.2 185.3,37.4 186.0,37.6 186.6,37.8 187.2,38.1 187.9,38.3 188.5,38.6 189.1,38.9 189.7,39.2 190.3,39.6 190.8,39.9 191.4,40.3 191.9,40.7 192.4,41.1 193.0,41.6 193.5,42.0 194.0,42.5 194.4,43.0 194.9,43.5 195.4,44.0 195.8,44.5 196.3,45.0 196.7,45.6 197.1,46.1 197.5,46.7 197.9,47.3 198.3,47.8 198.7,48.4 199.1,49.0 199.4,49.6 199.8,50.2 200.1,50.8 200.5,51.4 200.8,52.0 201.1,52.7 201.4,53.3 201.7,53.9 202.0,54.5 202.3,55.2 202.6,55.8 202.9,56.4 203.1,57.1 203.4,57.7 203.7,58.4 203.9,59.0 204.2,59.7 204.4,60.3 204.7,61.0 204.9,61.6 205.2,62.3 205.4,63.0 205.6,63.6 205.9,64.3 206.1,64.9 206.3,65.6 206.5,66.3 206.7,66.9 207.0,67.6 207.2,68.2 207.4,68.9 207.6,69.6 207.8,70.2 208.0,70.9 208.2,71.6 208.4,72.2 208.6,72.9 208.8,73.6 209.0,74.2 209.2,74.9 209.4,75.6 209.6,76.2 209.8,76.9 210.0,77.6 210.1,78.2 210.3,78.9 210.5,79.6 210.7,80.3 210.9,80.9 211.0,81.6 211.2,82.3 211.4,82.9 211.6,83.6 211.7,84.3 211.9,85.0 212.0,85.6 212.2,86.3 212.4,87.0 212.5,87.7 212.7,88.3 212.8,89.0 213.0,89.7 213.2,90.4 213.3,91.1 213.5,91.7 213.6,92.4 213.8,93.1 213.9,93.8 214.1,94.5 214.2,95.1 214.3,95.8 214.5,96.5 214.6,97.2 214.8,97.8 214.9,98.5 215.1,99.2 215.2,99.9 215.3,100.6 215.5,101.3 215.6,101.9 215.7,102.6 215.9,103.3 216.0,104.0 216.1,104.7 216.3,105.3 216.4,106.0 216.5,106.7 216.7,107.4 216.8,108.1 216.9,108.8 217.0,109.4 217.2,110.1 217.3,110.8 217.4,111.5 217.5,112.2 217.7,112.9 217.8,113.5 217.9,114.2 218.0,114.9 218.2,115.6 218.3,116.3 218.4,117.0 218.5,117.7 218.7,118.3 218.8,119.0 218.9,119.7 219.0,120.4 219.1,121.1 219.3,121.8 219.4,122.4 219.5,123.1 219.6,123.8 219.8,124.5 219.9,125.2 220.0,125.9 220.1,126.6 220.3,127.2 220.4,127.9 220.5,128.6 220.6,129.3 220.7,130.0 220.9,130.7 221.0,131.3 221.1,132.0 221.2,132.7 221.4,133.4 221.5,134.1 221.6,134.8 221.8,135.4 221.9,136.1 222.0,136.8 222.1,137.5 222.3,138.2 222.4,138.8 222.5,139.5 222.7,140.2 222.8,140.9 222.9,141.6 223.1,142.3 223.2,142.9 223.3,143.6 223.5,144.3 223.6,145.0 223.7,145.7 223.9,146.3 224.0,147.0 224.2,147.7 224.3,148.4 224.5,149.0 224.6,149.7 224.7,150.4 224.9,151.1 225.0,151.8 225.2,152.4 225.3,153.1 225.5,153.8 225.6,154.5 225.8,155.1 226.0,155.8 226.1,156.5 226.3,157.2 226.4,157.8 226.6,158.5 226.8,159.2 226.9,159.9 227.1,160.5 227.2,161.2 227.4,161.9 227.6,162.5 227.8,163.2 227.9,163.9 228.1,164.6 228.3,165.2 228.4,165.9 228.6,166.6 228.8,167.3 229.0,167.9 229.2,168.6 229.3,169.3 229.5,169.9 229.7,170.6 229.9,171.3 230.1,172.0 230.3,172.6 230.5,173.3 230.7,174.0 230.8,174.7 231.0,175.3 231.2,176.0 231.4,176.7 231.6,177.3 231.8,178.0 232.0,178.7 232.2,179.4 232.4,180.0 232.6,180.7 232.9,181.4 233.1,182.0 233.3,182.7 233.5,183.4 233.7,184.1 233.9,184.7 234.1,185.4 234.4,186.1 234.6,186.8 234.8,187.4 235.0,188.1 235.2,188.8 235.5,189.5 235.7,190.1 236.0,190.8 236.2,191.4 236.5,192.1 236.7,192.7 237.0,193.4 237.3,194.0 237.6,194.6 237.9,195.2 238.2,195.8 238.6,196.4 238.9,197.0 239.3,197.6 239.7,198.1 240.1,198.6 240.5,199.2 241.0,199.7 241.4,200.1 241.9,200.6 242.4,201.1 242.9,201.5 243.4,201.9 243.9,202.3 244.4,202.7 245.0,203.0 245.5,203.4 246.1,203.7 246.7,204.0 247.3,204.2 247.9,204.5 248.6,204.7 249.2,205.0 249.8,205.2 250.5,205.4 251.2,205.5 251.8,205.7 252.5,205.9 253.2,206.0 253.9,206.2 254.6,206.3 255.3,206.4 256.0,206.6 256.7,206.7 257.4,206.8 258.1,206.9 258.8,207.0 259.6,207.2 260.3,207.3 261.0,207.4 261.7,207.5 262.4,207.6 263.1,207.7 263.8,207.9 264.5,208.0 265.2,208.1 265.9,208.3 266.6,208.4 267.3,208.6 268.0,208.7 268.7,208.9 269.4,209.1 270.0,209.3 270.7,209.4 271.4,209.6 272.0,209.8 272.7,210.1 273.3,210.3 274.0,210.5 274.6,210.8 275.3,211.0 275.9,211.3 276.5,211.6 277.1,211.9 277.7,212.2 278.3,212.5 278.9,212.8 279.5,213.2 280.1,213.5 280.7,213.9 281.2,214.3 281.8,214.7 282.3,215.1 282.8,215.6 283.4,216.0 283.9,216.5 284.4,217.0 284.9,217.4 285.4,217.9 285.9,218.4 286.4,218.9 286.8,219.5 287.3,220.0 287.7,220.5 288.2,221.0 288.6,221.6 289.1,222.1 289.5,222.7 289.9,223.2 290.3,223.8 290.7,224.4 291.1,224.9 291.5,225.5 291.9,226.1 292.3,226.6 292.7,227.2 293.0,227.8 293.4,228.4 293.8,229.0 294.1,229.5 294.5,230.1 294.8,230.7 295.2,231.3 295.5,231.9 295.8,232.5 296.2,233.1 296.5,233.7 296.8,234.3 297.1,234.9 297.5,235.5 297.8,236.1 298.1,236.7 298.4,237.3 298.7,238.0 299.0,238.6 299.3,239.2 299.6,239.8 299.9,240.4 300.2,241.0 300.5,241.7 300.8,242.3 301.1,242.9 301.4,243.5 301.7,244.2 301.9,244.8 302.2,245.4 302.5,246.0 302.8,246.7 303.1,247.3 303.4,247.9 303.7,248.6 304.0,249.2 304.3,249.8 304.6,250.5 304.9,251.1 305.2,251.7 305.5,252.4 305.8,253.0 306.1,253.7 306.4,254.3 306.7,254.9 307.0,255.6 307.4,256.2 307.7,256.8 308.0,257.5 308.3,258.1 308.7,258.7 309.0,259.4 309.3,260.0 309.7,260.6 310.0,261.3 310.4,261.9 310.7,262.5 311.1,263.1 311.4,263.7 311.8,264.4 312.2,265.0 312.6,265.6 312.9,266.2 313.3,266.8 313.7,267.3 314.1,267.9 314.5,268.5 314.9,269.1 315.3,269.6 315.8,270.2 316.2,270.8 316.6,271.3 317.1,271.8 317.5,272.4 317.9,272.9 318.4,273.4 318.9,273.9 319.3,274.4 319.8,274.9 320.3,275.3 320.8,275.8 321.3,276.3 321.8,276.7 322.3,277.1 322.8,277.6 323.3,278.0 323.9,278.4 324.4,278.8 325.0,279.1 325.5,279.5 326.1,279.9 326.7,280.2 327.3,280.5 327.8,280.8 328.4,281.1 329.1,281.4 329.7,281.7 330.3,281.9 330.9,282.2 331.6,282.4 332.2,282.6 332.9,282.8 333.5,283.0 334.2,283.2 334.9,283.4 335.5,283.6 336.2,283.7 336.9,283.9 337.6,284.0 338.3,284.1 339.0,284.3 339.7,284.4 340.4,284.5 341.1,284.6 341.8,284.7 342.5,284.8 343.2,284.8 343.9,284.9 344.6,285.0 345.3,285.0 346.0,285.1 346.7,285.1 347.4,285.2 348.1,285.2 348.8,285.3 349.5,285.3 350.2,285.4 350.9,285.4 351.6,285.4 352.3,285.4 353.0,285.4 353.7,285.5 354.4,285.5 355.1,285.5 355.8,285.5 356.5,285.5 357.2,285.5 357.8,285.5 358.5,285.5 359.2,285.5 359.9,285.5 360.6,285.5 361.3,285.5 362.0,285.5 362.7,285.5 363.4,285.5 364.1,285.5 364.8,285.5 365.5,285.4 366.2,285.4 366.9,285.4 367.6,285.4 368.3,285.4 368.9,285.4 369.6,285.4 370.3,285.4 371.0,285.4 371.7,285.4 372.4,285.3 373.1,285.3 373.8,285.3 374.5,285.3 375.2,285.3 375.9,285.3 376.6,285.3 377.3,285.3 378.0,285.3 378.7,285.3 379.4,285.3 380.1,285.2 380.8,285.2 381.4,285.2 382.1,285.2 382.8,285.2 383.5,285.2 384.2,285.2 384.9,285.2 385.6,285.2 386.3,285.2 387.0,285.2 387.7,285.2 388.4,285.1 389.1,285.1 389.8,285.1 390.5,285.1 391.2,285.1 391.9,285.1 392.6,285.1 393.3,285.1 394.0,285.1 394.7,285.1 395.3,285.1 396.0,285.1 396.7,285.1 397.4,285.1 398.1,285.1 398.8,285.1 399.5,285.1 400.2,285.1 400.9,285.1 401.6,285.1 402.3,285.1 403.0,285.1 403.7,285.1 404.4,285.1 405.1,285.1 405.8,285.1 406.5,285.1 407.2,285.1 407.9,285.1 408.6,285.1 409.2,285.1 409.9,285.1 410.6,285.1 411.3,285.2 412.0,285.2 412.7,285.2 413.4,285.2 414.1,285.2 414.8,285.2 415.5,285.2 416.2,285.2 416.9,285.2 417.6,285.3 418.3,285.3 419.0,285.3 419.7,285.3 420.4,285.3 421.1,285.3 421.8,285.4 422.5,285.4 423.1,285.4 423.8,285.4 424.5,285.5 425.2,285.5 425.9,285.5 426.6,285.5 427.3,285.5 428.0,285.6 428.7,285.6 429.4,285.6 430.1,285.7 430.8,285.7 431.5,285.7 432.2,285.8 432.9,285.8 433.6,285.8 434.2,285.9 434.9,285.9 435.6,285.9 436.3,286.0 437.0,286.0 437.7,286.0 438.4,286.1 439.1,286.1 439.8,286.2 440.5,286.2 441.2,286.3 441.9,286.3 442.6,286.4 443.3,286.4 444.0,286.5 444.6,286.5 445.3,286.6 446.0,286.6 446.7,286.7 447.4,286.7 448.1,286.8 448.8,286.8 449.5,286.9 450.2,286.9 450.9,287.0 451.6,287.1 452.3,287.1 452.9,287.2 453.6,287.3 454.3,287.3 455.0,287.4 455.7,287.5 456.4,287.5 457.1,287.6 457.8,287.7 458.5,287.8 459.2,287.8 459.9,287.9 460.5,288.0 461.2,288.1 461.9,288.1 462.6,288.2 463.3,288.3 464.0,288.4 464.7,288.5 465.4,288.5 466.1,288.6 466.8,288.7 467.4,288.8 468.1,288.9 468.8,288.9 469.5,289.0 470.2,289.1 470.9,289.2 471.6,289.3 472.3,289.4 473.0,289.5 473.7,289.5 474.3,289.6 475.0,289.7 475.7,289.8 476.4,289.9 477.1,290.0 477.8,290.1 478.5,290.2 479.2,290.2 479.9,290.3 480.6,290.4 481.2,290.5 481.9,290.6 482.6,290.7 483.3,290.8 484.0,290.9 484.7,291.0 485.4,291.0 486.1,291.1 486.8,291.2 487.5,291.3 488.1,291.4 488.8,291.5 489.5,291.6 490.2,291.7 490.9,291.7 491.6,291.8 492.3,291.9 493.0,292.0 493.7,292.1 494.4,292.2 495.0,292.3 495.7,292.3 496.4,292.4 497.1,292.5 497.8,292.6 498.5,292.7 499.2,292.8 499.9,292.8 500.6,292.9 501.3,293.0 501.9,293.1 502.6,293.2 503.3,293.2 504.0,293.3 504.7,293.4 505.4,293.5 506.1,293.5 506.8,293.6 507.5,293.7 508.2,293.7 508.9,293.8 509.5,293.9 510.2,293.9 510.9,294.0 511.6,294.1 512.3,294.1 513.0,294.2 513.7,294.3 514.4,294.3 515.1,294.4 515.8,294.4 516.5,294.5 517.2,294.6 517.9,294.6 518.6,294.7 519.2,294.7 519.9,294.8 520.6,294.8 521.3,294.9 522.0,294.9 522.7,294.9 523.4,295.0 524.1,295.0 524.8,295.1 525.5,295.1 526.2,295.1 526.9,295.2 527.6,295.2 528.3,295.2 529.0,295.3 529.7,295.3 530.4,295.3 531.1,295.3 531.7,295.4 532.4,295.4 533.1,295.4 533.8,295.4 534.5,295.4" fill="none" stroke="#1a1aff" stroke-width="1.7" stroke-linejoin="round" stroke-linecap="round"/>
<path d="M70.8,36.4 71.5,36.4 72.2,36.4 72.9,36.4 73.6,36.4 74.3,36.5 75.0,36.5 75.7,36.5 76.4,36.5 77.1,36.5 77.8,36.5 78.5,36.5 79.3,36.5 80.0,36.5 80.7,36.5 81.4,36.5 82.1,36.5 82.8,36.5 83.5,36.6 84.2,36.6 84.9,36.6 85.6,36.6 86.3,36.6 87.0,36.6 87.7,36.6 88.4,36.6 89.1,36.6 89.8,36.6 90.5,36.7 91.2,36.7 91.9,36.7 92.6,36.7 93.4,36.7 94.1,36.7 94.8,36.7 95.5,36.7 96.2,36.7 96.9,36.7 97.6,36.8 98.3,36.8 99.0,36.8 99.7,36.8 100.4,36.8 101.1,36.8 101.8,36.8 102.5,36.8 103.2,36.8 103.9,36.9 104.6,36.9 105.3,36.9 106.0,36.9 106.7,36.9 107.4,36.9 108.1,36.9 108.8,36.9 109.5,37.0 110.2,37.0 110.9,37.0 111.6,37.0 112.3,37.0 113.0,37.0 113.7,37.0 114.4,37.0 115.1,37.0 115.8,37.1 116.5,37.1 117.3,37.1 118.0,37.1 118.7,37.1 119.4,37.1 120.1,37.1 120.8,37.1 121.5,37.2 122.2,37.2 122.9,37.2 123.6,37.2 124.3,37.2 125.0,37.2 125.7,37.2 126.4,37.2 127.1,37.3 127.8,37.3 128.5,37.3 129.2,37.3 129.9,37.3 130.6,37.3 131.3,37.3 132.0,37.3 132.7,37.3 133.4,37.4 134.1,37.4 134.8,37.4 135.5,37.4 136.2,37.4 136.9,37.4 137.6,37.4 138.3,37.4 139.0,37.4 139.8,37.5 140.5,37.5 141.2,37.5 141.9,37.5 142.6,37.5 143.3,37.5 144.0,37.5 144.7,37.5 145.4,37.5 146.1,37.5 146.8,37.6 147.5,37.6 148.2,37.6 148.9,37.6 149.6,37.6 150.3,37.6 151.0,37.6 151.7,37.6 152.4,37.6 153.2,37.6 153.9,37.6 154.6,37.6 155.3,37.7 156.0,37.7 156.7,37.7 157.4,37.7 158.1,37.7 158.8,37.7 159.5,37.7 160.2,37.7 160.9,37.7 161.6,37.7 162.4,37.7 163.1,37.7 163.8,37.7 164.5,37.8 165.2,37.8 165.9,37.8 166.6,37.8 167.3,37.8 168.0,37.8 168.7,37.9 169.4,37.9 170.1,37.9 170.8,38.0 171.5,38.0 172.2,38.0 172.9,38.1 173.6,38.1 174.3,38.2 175.0,38.3 175.7,38.4 176.4,38.4 177.1,38.5 177.8,38.6 178.5,38.7 179.2,38.8 179.8,38.9 180.5,39.1 181.2,39.2 181.9,39.3 182.6,39.5 183.2,39.6 183.9,39.8 184.6,40.0 185.2,40.2 185.9,40.4 186.6,40.6 187.2,40.8 187.9,41.1 188.5,41.3 189.2,41.6 189.8,41.8 190.5,42.1 191.1,42.4 191.7,42.7 192.4,43.1 193.0,43.4 193.6,43.8 194.3,44.1 194.9,44.5 195.5,44.9 196.1,45.3 196.7,45.7 197.2,46.2 197.8,46.6 198.3,47.1 198.9,47.6 199.4,48.1 199.9,48.6 200.3,49.1 200.8,49.6 201.2,50.2 201.6,50.7 202.0,51.3 202.4,51.9 202.7,52.4 203.1,53.0 203.4,53.6 203.7,54.2 204.0,54.9 204.4,55.5 204.7,56.1 205.0,56.7 205.2,57.4 205.5,58.0 205.8,58.6 206.1,59.3 206.4,59.9 206.7,60.5 207.0,61.2 207.2,61.8 207.5,62.5 207.8,63.1 208.1,63.8 208.3,64.4 208.6,65.1 208.9,65.7 209.1,66.4 209.4,67.0 209.6,67.7 209.9,68.3 210.1,69.0 210.4,69.7 210.6,70.3 210.9,71.0 211.1,71.7 211.3,72.3 211.6,73.0 211.8,73.7 212.0,74.3 212.2,75.0 212.5,75.7 212.7,76.4 212.9,77.0 213.1,77.7 213.3,78.4 213.5,79.0 213.7,79.7 213.9,80.4 214.1,81.1 214.3,81.8 214.4,82.4 214.6,83.1 214.8,83.8 215.0,84.5 215.2,85.2 215.3,85.8 215.5,86.5 215.7,87.2 215.8,87.9 216.0,88.6 216.2,89.3 216.3,89.9 216.5,90.6 216.6,91.3 216.8,92.0 216.9,92.7 217.1,93.4 217.2,94.1 217.4,94.8 217.5,95.4 217.6,96.1 217.8,96.8 217.9,97.5 218.0,98.2 218.2,98.9 218.3,99.6 218.4,100.3 218.6,101.0 218.7,101.7 218.8,102.4 218.9,103.0 219.1,103.7 219.2,104.4 219.3,105.1 219.4,105.8 219.5,106.5 219.7,107.2 219.8,107.9 219.9,108.6 220.0,109.3 220.1,110.0 220.2,110.7 220.4,111.4 220.5,112.1 220.6,112.8 220.7,113.5 220.8,114.1 220.9,114.8 221.0,115.5 221.1,116.2 221.2,116.9 221.4,117.6 221.5,118.3 221.6,119.0 221.7,119.7 221.8,120.4 221.9,121.1 222.0,121.8 222.1,122.5 222.2,123.2 222.4,123.9 222.5,124.6 222.6,125.3 222.7,125.9 222.8,126.6 222.9,127.3 223.0,128.0 223.1,128.7 223.2,129.4 223.3,130.1 223.4,130.8 223.5,131.5 223.6,132.2 223.7,132.9 223.8,133.6 223.9,134.3 224.0,135.0 224.1,135.7 224.2,136.4 224.3,137.1 224.4,137.8 224.5,138.5 224.6,139.2 224.7,139.9 224.8,140.5 224.9,141.2 225.0,141.9 225.1,142.6 225.2,143.3 225.3,144.0 225.4,144.7 225.5,145.4 225.6,146.1 225.7,146.8 225.8,147.5 226.0,148.2 226.1,148.9 226.2,149.6 226.3,150.3 226.4,151.0 226.5,151.7 226.6,152.4 226.8,153.0 226.9,153.7 227.0,154.4 227.2,155.1 227.3,155.8 227.4,156.5 227.6,157.2 227.7,157.9 227.9,158.6 228.0,159.2 228.2,159.9 228.3,160.6 228.5,161.3 228.6,162.0 228.8,162.7 229.0,163.3 229.1,164.0 229.3,164.7 229.5,165.4 229.6,166.1 229.8,166.7 230.0,167.4 230.2,168.1 230.4,168.8 230.5,169.5 230.7,170.1 230.9,170.8 231.1,171.5 231.3,172.2 231.5,172.9 231.7,173.5 231.9,174.2 232.0,174.9 232.2,175.6 232.4,176.2 232.6,176.9 232.8,177.6 233.0,178.3 233.2,179.0 233.4,179.6 233.6,180.3 233.8,181.0 234.0,181.7 234.2,182.3 234.4,183.0 234.6,183.7 234.8,184.4 235.0,185.0 235.2,185.7 235.3,186.4 235.5,187.1 235.7,187.8 235.9,188.4 236.1,189.1 236.3,189.8 236.5,190.5 236.7,191.2 236.8,191.8 237.0,192.5 237.2,193.2 237.4,193.9 237.6,194.6 237.7,195.3 237.9,195.9 238.1,196.6 238.3,197.3 238.4,198.0 238.6,198.7 238.8,199.3 239.0,200.0 239.2,200.7 239.4,201.4 239.6,202.0 239.8,202.7 240.1,203.3 240.3,204.0 240.6,204.6 240.9,205.3 241.2,205.9 241.6,206.5 242.0,207.1 242.4,207.6 242.8,208.2 243.3,208.7 243.8,209.2 244.3,209.7 244.8,210.1 245.4,210.6 245.9,211.0 246.5,211.3 247.1,211.7 247.7,212.0 248.3,212.2 249.0,212.5 249.6,212.7 250.3,212.9 250.9,213.1 251.6,213.3 252.2,213.5 252.9,213.6 253.6,213.8 254.3,213.9 255.0,214.0 255.7,214.1 256.4,214.2 257.1,214.3 257.8,214.4 258.5,214.5 259.2,214.6 259.9,214.7 260.6,214.8 261.4,215.0 262.1,215.1 262.8,215.2 263.5,215.3 264.2,215.5 264.9,215.6 265.6,215.8 266.3,215.9 267.0,216.1 267.6,216.3 268.3,216.5 269.0,216.6 269.7,216.9 270.3,217.1 271.0,217.3 271.7,217.5 272.3,217.8 272.9,218.1 273.6,218.4 274.2,218.7 274.8,219.0 275.4,219.3 276.0,219.6 276.6,220.0 277.2,220.4 277.7,220.8 278.3,221.2 278.8,221.6 279.4,222.0 279.9,222.5 280.4,222.9 280.9,223.4 281.4,223.9 281.9,224.3 282.4,224.8 282.9,225.4 283.4,225.9 283.9,226.4 284.3,226.9 284.8,227.5 285.3,228.0 285.7,228.6 286.1,229.1 286.6,229.7 287.0,230.2 287.4,230.8 287.9,231.4 288.3,232.0 288.7,232.5 289.1,233.1 289.5,233.7 289.9,234.3 290.3,234.8 290.7,235.4 291.1,236.0 291.5,236.6 291.9,237.2 292.3,237.8 292.6,238.4 293.0,239.0 293.4,239.6 293.8,240.2 294.1,240.8 294.5,241.4 294.8,242.0 295.2,242.6 295.5,243.2 295.9,243.8 296.2,244.4 296.6,245.0 296.9,245.6 297.3,246.3 297.6,246.9 297.9,247.5 298.2,248.1 298.6,248.7 298.9,249.3 299.2,250.0 299.5,250.6 299.9,251.2 300.2,251.8 300.5,252.5 300.8,253.1 301.1,253.7 301.4,254.4 301.7,255.0 302.0,255.6 302.3,256.3 302.6,256.9 302.9,257.5 303.2,258.2 303.5,258.8 303.8,259.4 304.1,260.1 304.4,260.7 304.7,261.3 305.0,262.0 305.3,262.6 305.5,263.3 305.8,263.9 306.1,264.5 306.4,265.2 306.7,265.8 307.0,266.5 307.3,267.1 307.5,267.7 307.8,268.4 308.1,269.0 308.4,269.7 308.7,270.3 309.0,270.9 309.3,271.6 309.6,272.2 309.9,272.8 310.2,273.4 310.6,274.1 310.9,274.7 311.3,275.3 311.6,275.9 312.0,276.5 312.4,277.1 312.7,277.7 313.1,278.3 313.5,278.9 313.9,279.5 314.4,280.0 314.8,280.6 315.2,281.2 315.6,281.7 316.1,282.3 316.5,282.8 317.0,283.4 317.4,283.9 317.9,284.4 318.4,284.9 318.9,285.5 319.3,285.9 319.8,286.4 320.3,286.9 320.9,287.4 321.4,287.8 321.9,288.2 322.4,288.7 323.0,289.1 323.6,289.5 324.1,289.8 324.7,290.2 325.3,290.5 325.9,290.8 326.5,291.1 327.2,291.4 327.8,291.7 328.4,292.0 329.1,292.2 329.8,292.4 330.4,292.6 331.1,292.8 331.8,293.0 332.5,293.2 333.2,293.4 333.8,293.6 334.5,293.7 335.2,293.9 335.9,294.0 336.6,294.2 337.3,294.3 338.0,294.5 338.7,294.6 339.4,294.7 340.1,294.8 340.8,294.9 341.5,295.1 342.2,295.2 342.9,295.3 343.6,295.4 344.3,295.4 345.0,295.5 345.7,295.6 346.4,295.7 347.1,295.8 347.8,295.8 348.5,295.9 349.2,296.0 349.9,296.0 350.6,296.1 351.3,296.1 352.0,296.2 352.7,296.2 353.4,296.2 354.1,296.3 354.8,296.3 355.5,296.4 356.2,296.4 356.9,296.4 357.6,296.4 358.3,296.5 359.0,296.5 359.7,296.5 360.4,296.5 361.1,296.5 361.8,296.5 362.5,296.6 363.2,296.6 363.9,296.6 364.6,296.6 365.3,296.6 366.0,296.6 366.7,296.6 367.4,296.6 368.1,296.6 368.8,296.6 369.5,296.6 370.2,296.6 370.9,296.6 371.7,296.6 372.4,296.6 373.1,296.6 373.8,296.6 374.5,296.6 375.2,296.6 375.9,296.6 376.6,296.6 377.3,296.6 378.0,296.6 378.7,296.6 379.4,296.6 380.1,296.6 380.8,296.6 381.5,296.6 382.2,296.6 382.9,296.6 383.6,296.6 384.3,296.6 385.0,296.6 385.7,296.6 386.4,296.6 387.1,296.6 387.8,296.6 388.6,296.6 389.3,296.6 390.0,296.6 390.7,296.6 391.4,296.6 392.1,296.6 392.8,296.6 393.5,296.6 394.2,296.6 394.9,296.6 395.6,296.6 396.3,296.6 397.0,296.6 397.7,296.6 398.4,296.6 399.1,296.6 399.8,296.6 400.5,296.6 401.2,296.6 401.9,296.5 402.6,296.5 403.3,296.5 404.0,296.5 404.7,296.5 405.4,296.5 406.1,296.5 406.8,296.5 407.6,296.5 408.3,296.5 409.0,296.5 409.7,296.5 410.4,296.5 411.1,296.5 411.8,296.5 412.5,296.4 413.2,296.4 413.9,296.4 414.6,296.4 415.3,296.4 416.0,296.4 416.7,296.4 417.4,296.3 418.1,296.3 418.8,296.3 419.5,296.3 420.2,296.3 420.9,296.3 421.6,296.2 422.3,296.2 423.1,296.2 423.8,296.2 424.5,296.2 425.2,296.1 425.9,296.1 426.6,296.1 427.3,296.1 428.0,296.1 428.7,296.1 429.4,296.1 430.1,296.1 430.8,296.1 431.5,296.2 432.2,296.2 432.9,296.2 433.6,296.2 434.3,296.3 435.0,296.3 435.7,296.4 436.4,296.4 437.1,296.5 437.8,296.6 438.5,296.7 439.2,296.7 439.9,296.8 440.6,296.9 441.2,297.0 441.9,297.1 442.6,297.3 443.3,297.4 444.0,297.5 444.7,297.6 445.4,297.7 446.1,297.9 446.8,298.0 447.5,298.1 448.2,298.2 448.9,298.4 449.6,298.5 450.2,298.6 450.9,298.8 451.6,298.9 452.3,299.0 453.0,299.1 453.7,299.2 454.4,299.4 455.1,299.5 455.8,299.6 456.5,299.7 457.2,299.8 457.9,299.9 458.6,300.0 459.3,300.1 460.0,300.2 460.7,300.3 461.4,300.3 462.1,300.4 462.8,300.5 463.5,300.6 464.2,300.6 464.9,300.7 465.6,300.8 466.3,300.8 467.0,300.9 467.7,301.0 468.4,301.0 469.1,301.1 469.8,301.1 470.5,301.2 471.2,301.2 471.9,301.3 472.6,301.3 473.3,301.4 474.0,301.4 474.7,301.4 475.4,301.5 476.1,301.5 476.8,301.5 477.5,301.6 478.2,301.6 478.9,301.6 479.6,301.7 480.3,301.7 481.0,301.7 481.7,301.7 482.4,301.8 483.1,301.8 483.8,301.8 484.5,301.8 485.2,301.8 485.9,301.9 486.6,301.9 487.3,301.9 488.0,301.9 488.8,301.9 489.5,301.9 490.2,302.0 490.9,302.0 491.6,302.0 492.3,302.0 493.0,302.0 493.7,302.0 494.4,302.0 495.1,302.1 495.8,302.1 496.5,302.1 497.2,302.1 497.9,302.1 498.6,302.1 499.3,302.1 500.0,302.2 500.7,302.2 501.4,302.2 502.1,302.2 502.8,302.2 503.5,302.2 504.2,302.3 504.9,302.3 505.6,302.3 506.4,302.3 507.1,302.3 507.8,302.3 508.5,302.4 509.2,302.4 509.9,302.4 510.6,302.4 511.3,302.4 512.0,302.4 512.7,302.5 513.4,302.5 514.1,302.5 514.8,302.5 515.5,302.5 516.2,302.5 516.9,302.6 517.6,302.6 518.3,302.6 519.0,302.6 519.7,302.6 520.4,302.6 521.1,302.6 521.8,302.7 522.5,302.7 523.2,302.7 523.9,302.7 524.6,302.7 525.3,302.7 526.0,302.7 526.8,302.8 527.5,302.8 528.2,302.8 528.9,302.8 529.6,302.8 530.3,302.8 531.0,302.8 531.7,302.8 532.4,302.9 533.1,302.9 533.8,302.9 534.5,302.9" fill="none" stroke="#22ffff" stroke-width="1.7" stroke-linejoin="round" stroke-linecap="round"/>
<path d="M70.8,36.7 71.5,36.7 72.2,36.7 72.9,36.7 73.6,36.8 74.3,36.8 75.0,36.8 75.7,36.8 76.4,36.8 77.1,36.8 77.8,36.9 78.5,36.9 79.2,36.9 79.9,36.9 80.6,36.9 81.3,36.9 82.0,36.9 82.7,37.0 83.4,37.0 84.1,37.0 84.8,37.0 85.5,37.0 86.2,37.0 87.0,37.0 87.7,37.0 88.4,37.1 89.1,37.1 89.8,37.1 90.5,37.1 91.2,37.1 91.9,37.1 92.6,37.1 93.3,37.1 94.0,37.2 94.7,37.2 95.4,37.2 96.1,37.2 96.8,37.2 97.5,37.2 98.2,37.2 98.9,37.2 99.6,37.3 100.3,37.3 101.0,37.3 101.7,37.3 102.4,37.3 103.1,37.3 103.8,37.3 104.5,37.4 105.2,37.4 105.9,37.4 106.6,37.4 107.3,37.4 108.0,37.4 108.7,37.5 109.4,37.5 110.1,37.5 110.8,37.5 111.5,37.5 112.2,37.5 112.9,37.6 113.6,37.6 114.3,37.6 115.0,37.6 115.7,37.6 116.4,37.6 117.1,37.6 117.8,37.7 118.5,37.7 119.2,37.7 119.9,37.7 120.7,37.7 121.4,37.7 122.1,37.7 122.8,37.8 123.5,37.8 124.2,37.8 124.9,37.8 125.6,37.8 126.3,37.8 127.0,37.8 127.7,37.8 128.4,37.8 129.1,37.9 129.8,37.9 130.5,37.9 131.2,37.9 131.9,37.9 132.6,37.9 133.3,37.9 134.0,37.9 134.7,37.9 135.4,37.9 136.1,37.9 136.8,38.0 137.5,38.0 138.2,38.0 138.9,38.0 139.6,38.0 140.3,38.0 141.0,38.0 141.7,38.0 142.4,38.0 143.1,38.0 143.8,38.0 144.6,38.1 145.3,38.1 146.0,38.1 146.7,38.1 147.4,38.1 148.1,38.1 148.8,38.1 149.5,38.1 150.2,38.1 150.9,38.1 151.6,38.1 152.3,38.2 153.0,38.2 153.7,38.2 154.4,38.2 155.1,38.2 155.8,38.2 156.5,38.2 157.2,38.2 157.9,38.2 158.6,38.3 159.3,38.3 160.0,38.3 160.7,38.3 161.4,38.3 162.1,38.3 162.8,38.3 163.5,38.4 164.2,38.4 164.9,38.4 165.6,38.4 166.3,38.4 167.0,38.4 167.7,38.5 168.4,38.5 169.1,38.5 169.8,38.5 170.5,38.6 171.2,38.6 171.9,38.6 172.6,38.7 173.3,38.7 174.0,38.8 174.7,38.9 175.4,38.9 176.1,39.0 176.8,39.1 177.4,39.2 178.1,39.3 178.8,39.4 179.5,39.5 180.2,39.6 180.9,39.8 181.6,39.9 182.3,40.1 182.9,40.2 183.6,40.4 184.3,40.6 185.0,40.8 185.7,41.0 186.3,41.3 187.0,41.5 187.7,41.8 188.3,42.0 189.0,42.3 189.6,42.6 190.3,42.9 190.9,43.2 191.5,43.6 192.2,43.9 192.8,44.3 193.4,44.6 193.9,45.0 194.5,45.4 195.1,45.8 195.6,46.3 196.1,46.7 196.7,47.2 197.2,47.6 197.6,48.1 198.1,48.6 198.6,49.1 199.0,49.7 199.5,50.2 199.9,50.7 200.3,51.3 200.7,51.9 201.1,52.4 201.5,53.0 201.8,53.6 202.2,54.2 202.5,54.8 202.9,55.4 203.2,56.0 203.5,56.6 203.9,57.3 204.2,57.9 204.5,58.5 204.8,59.2 205.1,59.8 205.4,60.5 205.6,61.1 205.9,61.8 206.2,62.4 206.5,63.1 206.7,63.7 207.0,64.4 207.3,65.0 207.5,65.7 207.8,66.4 208.0,67.0 208.3,67.7 208.5,68.3 208.8,69.0 209.0,69.7 209.3,70.3 209.5,71.0 209.7,71.6 210.0,72.3 210.2,73.0 210.4,73.6 210.6,74.3 210.8,75.0 211.0,75.6 211.2,76.3 211.4,77.0 211.7,77.7 211.8,78.3 212.0,79.0 212.2,79.7 212.4,80.3 212.6,81.0 212.8,81.7 213.0,82.4 213.1,83.1 213.3,83.7 213.5,84.4 213.6,85.1 213.8,85.8 214.0,86.5 214.1,87.1 214.3,87.8 214.4,88.5 214.6,89.2 214.7,89.9 214.9,90.6 215.0,91.2 215.1,91.9 215.3,92.6 215.4,93.3 215.5,94.0 215.7,94.7 215.8,95.4 215.9,96.1 216.1,96.8 216.2,97.4 216.3,98.1 216.4,98.8 216.5,99.5 216.7,100.2 216.8,100.9 216.9,101.6 217.0,102.3 217.1,103.0 217.2,103.7 217.3,104.4 217.5,105.1 217.6,105.8 217.7,106.5 217.8,107.1 217.9,107.8 218.0,108.5 218.1,109.2 218.2,109.9 218.3,110.6 218.4,111.3 218.5,112.0 218.6,112.7 218.8,113.4 218.9,114.1 219.0,114.8 219.1,115.5 219.2,116.2 219.3,116.9 219.4,117.6 219.5,118.3 219.6,119.0 219.7,119.7 219.9,120.4 220.0,121.0 220.1,121.7 220.2,122.4 220.3,123.1 220.4,123.8 220.6,124.5 220.7,125.2 220.8,125.9 220.9,126.6 221.0,127.3 221.2,128.0 221.3,128.7 221.4,129.4 221.6,130.0 221.7,130.7 221.8,131.4 222.0,132.1 222.1,132.8 222.2,133.5 222.4,134.2 222.5,134.9 222.7,135.6 222.8,136.2 223.0,136.9 223.1,137.6 223.3,138.3 223.4,139.0 223.6,139.7 223.7,140.4 223.9,141.0 224.0,141.7 224.2,142.4 224.3,143.1 224.5,143.8 224.6,144.5 224.8,145.1 225.0,145.8 225.1,146.5 225.3,147.2 225.4,147.9 225.6,148.6 225.8,149.2 225.9,149.9 226.1,150.6 226.3,151.3 226.4,152.0 226.6,152.6 226.8,153.3 226.9,154.0 227.1,154.7 227.3,155.4 227.4,156.1 227.6,156.7 227.8,157.4 227.9,158.1 228.1,158.8 228.3,159.4 228.5,160.1 228.6,160.8 228.8,161.5 229.0,162.2 229.1,162.8 229.3,163.5 229.5,164.2 229.7,164.9 229.8,165.6 230.0,166.2 230.2,166.9 230.3,167.6 230.5,168.3 230.7,168.9 230.9,169.6 231.0,170.3 231.2,171.0 231.4,171.7 231.6,172.3 231.7,173.0 231.9,173.7 232.1,174.4 232.3,175.0 232.4,175.7 232.6,176.4 232.8,177.1 233.0,177.8 233.1,178.4 233.3,179.1 233.5,179.8 233.7,180.5 233.9,181.1 234.1,181.8 234.2,182.5 234.4,183.2 234.6,183.9 234.8,184.5 235.0,185.2 235.2,185.9 235.4,186.6 235.6,187.3 235.8,187.9 236.0,188.6 236.2,189.3 236.4,190.0 236.6,190.7 236.8,191.3 237.1,192.0 237.3,192.7 237.5,193.3 237.7,194.0 238.0,194.7 238.2,195.3 238.4,196.0 238.7,196.7 238.9,197.3 239.2,198.0 239.4,198.6 239.7,199.3 239.9,199.9 240.2,200.6 240.5,201.2 240.8,201.8 241.0,202.4 241.3,203.1 241.6,203.7 242.0,204.3 242.3,204.9 242.6,205.4 243.0,206.0 243.4,206.5 243.8,207.0 244.2,207.5 244.7,208.0 245.2,208.4 245.7,208.8 246.3,209.2 246.9,209.6 247.5,209.9 248.1,210.2 248.8,210.5 249.5,210.7 250.1,211.0 250.8,211.2 251.5,211.4 252.2,211.5 253.0,211.7 253.7,211.9 254.4,212.0 255.1,212.2 255.8,212.3 256.5,212.4 257.2,212.5 257.9,212.6 258.5,212.7 259.2,212.8 259.9,212.9 260.6,213.0 261.3,213.1 262.0,213.2 262.7,213.3 263.4,213.4 264.0,213.5 264.7,213.6 265.4,213.8 266.1,213.9 266.8,214.0 267.5,214.2 268.2,214.3 268.9,214.5 269.5,214.6 270.2,214.8 270.9,215.0 271.6,215.2 272.3,215.4 272.9,215.7 273.6,215.9 274.3,216.2 274.9,216.5 275.5,216.8 276.2,217.1 276.8,217.4 277.4,217.8 278.0,218.1 278.5,218.5 279.1,218.9 279.6,219.3 280.1,219.8 280.6,220.3 281.1,220.7 281.6,221.2 282.0,221.7 282.5,222.3 282.9,222.8 283.3,223.4 283.8,223.9 284.2,224.5 284.6,225.0 285.0,225.6 285.4,226.1 285.8,226.7 286.2,227.3 286.6,227.8 287.0,228.4 287.4,229.0 287.8,229.6 288.2,230.2 288.6,230.7 289.0,231.3 289.4,231.9 289.8,232.5 290.2,233.1 290.6,233.7 291.0,234.3 291.4,234.8 291.8,235.4 292.2,236.0 292.5,236.6 292.9,237.2 293.3,237.8 293.7,238.4 294.1,239.0 294.5,239.6 294.8,240.2 295.2,240.8 295.6,241.4 296.0,242.0 296.3,242.6 296.7,243.2 297.1,243.8 297.5,244.4 297.8,245.0 298.2,245.6 298.5,246.2 298.9,246.8 299.3,247.4 299.6,248.0 300.0,248.6 300.3,249.2 300.7,249.8 301.0,250.4 301.3,251.0 301.6,251.6 302.0,252.2 302.3,252.8 302.6,253.5 302.9,254.1 303.2,254.7 303.5,255.4 303.8,256.0 304.1,256.6 304.3,257.3 304.6,257.9 304.9,258.6 305.1,259.2 305.4,259.9 305.6,260.5 305.8,261.2 306.1,261.8 306.3,262.5 306.5,263.2 306.8,263.8 307.0,264.5 307.2,265.2 307.4,265.8 307.7,266.5 307.9,267.1 308.1,267.8 308.4,268.5 308.6,269.1 308.9,269.8 309.2,270.4 309.4,271.1 309.7,271.7 310.0,272.3 310.3,273.0 310.6,273.6 311.0,274.2 311.3,274.8 311.6,275.4 312.0,276.0 312.4,276.6 312.8,277.2 313.2,277.8 313.6,278.3 314.0,278.9 314.4,279.5 314.8,280.0 315.3,280.6 315.7,281.2 316.2,281.7 316.6,282.3 317.1,282.8 317.5,283.3 318.0,283.9 318.5,284.4 318.9,284.9 319.4,285.5 319.9,286.0 320.4,286.5 320.9,287.0 321.4,287.4 321.9,287.9 322.4,288.4 323.0,288.8 323.5,289.2 324.1,289.6 324.6,290.0 325.2,290.3 325.8,290.7 326.4,291.0 327.0,291.3 327.6,291.6 328.3,291.9 328.9,292.1 329.6,292.4 330.2,292.6 330.9,292.8 331.5,293.0 332.2,293.2 332.9,293.4 333.6,293.6 334.2,293.7 334.9,293.9 335.6,294.0 336.3,294.2 337.0,294.3 337.7,294.4 338.4,294.5 339.1,294.6 339.8,294.7 340.5,294.8 341.2,294.9 341.9,295.0 342.6,295.1 343.3,295.2 344.0,295.3 344.8,295.4 345.5,295.4 346.2,295.5 346.9,295.6 347.6,295.7 348.3,295.7 349.0,295.8 349.7,295.8 350.4,295.9 351.1,295.9 351.8,296.0 352.5,296.0 353.2,296.1 353.9,296.1 354.6,296.2 355.3,296.2 356.0,296.2 356.7,296.3 357.4,296.3 358.1,296.3 358.8,296.3 359.5,296.4 360.2,296.4 360.9,296.4 361.6,296.4 362.3,296.4 363.0,296.5 363.7,296.5 364.4,296.5 365.1,296.5 365.8,296.5 366.5,296.5 367.2,296.5 367.9,296.5 368.6,296.5 369.3,296.5 370.0,296.5 370.7,296.5 371.4,296.5 372.1,296.6 372.8,296.6 373.5,296.6 374.2,296.6 374.9,296.6 375.6,296.6 376.3,296.6 377.0,296.6 377.7,296.6 378.4,296.6 379.1,296.6 379.8,296.6 380.5,296.6 381.2,296.6 381.9,296.6 382.6,296.6 383.3,296.6 384.0,296.6 384.7,296.6 385.4,296.6 386.1,296.6 386.8,296.6 387.6,296.6 388.3,296.6 389.0,296.6 389.7,296.6 390.4,296.6 391.1,296.7 391.8,296.7 392.5,296.7 393.2,296.7 393.9,296.7 394.6,296.7 395.3,296.7 396.0,296.7 396.7,296.8 397.4,296.8 398.1,296.8 398.8,296.8 399.5,296.8 400.2,296.8 400.9,296.9 401.6,296.9 402.3,296.9 403.0,296.9 403.7,296.9 404.4,297.0 405.1,297.0 405.8,297.0 406.5,297.0 407.2,297.0 407.9,297.1 408.6,297.1 409.3,297.1 410.0,297.2 410.7,297.2 411.4,297.2 412.1,297.2 412.8,297.3 413.5,297.3 414.2,297.3 414.9,297.4 415.6,297.4 416.3,297.4 417.0,297.5 417.7,297.5 418.4,297.6 419.1,297.6 419.8,297.6 420.5,297.7 421.2,297.7 421.9,297.8 422.6,297.8 423.3,297.8 424.0,297.9 424.7,297.9 425.4,298.0 426.1,298.0 426.8,298.1 427.5,298.1 428.2,298.2 428.9,298.2 429.6,298.3 430.3,298.3 431.0,298.4 431.7,298.4 432.4,298.5 433.1,298.5 433.8,298.6 434.5,298.7 435.2,298.7 435.9,298.8 436.6,298.8 437.3,298.9 438.0,299.0 438.7,299.0 439.4,299.1 440.1,299.2 440.8,299.2 441.5,299.3 442.2,299.4 442.9,299.5 443.6,299.5 444.3,299.6 445.0,299.7 445.7,299.7 446.4,299.8 447.1,299.9 447.8,300.0 448.5,300.1 449.2,300.1 449.9,300.2 450.6,300.3 451.3,300.4 452.0,300.5 452.7,300.6 453.4,300.7 454.1,300.7 454.8,300.8 455.5,300.9 456.2,301.0 456.8,301.1 457.5,301.2 458.2,301.3 458.9,301.4 459.6,301.5 460.3,301.6 461.0,301.7 461.7,301.8 462.4,301.9 463.1,302.0 463.8,302.1 464.5,302.2 465.2,302.3 465.9,302.4 466.6,302.5 467.3,302.6 468.0,302.7 468.7,302.8 469.4,302.9 470.0,303.0 470.7,303.1 471.4,303.2 472.1,303.3 472.8,303.4 473.5,303.5 474.2,303.6 474.9,303.7 475.6,303.8 476.3,303.9 477.0,304.0 477.7,304.1 478.4,304.2 479.1,304.2 479.8,304.3 480.5,304.4 481.2,304.5 481.9,304.6 482.6,304.7 483.3,304.7 484.0,304.8 484.7,304.9 485.4,305.0 486.1,305.0 486.7,305.1 487.4,305.2 488.1,305.2 488.8,305.3 489.5,305.3 490.2,305.4 490.9,305.5 491.6,305.5 492.3,305.5 493.0,305.6 493.7,305.6 494.4,305.7 495.1,305.7 495.8,305.7 496.5,305.8 497.2,305.8 497.9,305.8 498.6,305.8 499.4,305.9 500.1,305.9 500.8,305.9 501.5,305.9 502.2,305.9 502.9,305.9 503.6,305.9 504.3,305.9 505.0,305.9 505.7,305.9 506.4,305.9 507.1,305.9 507.8,305.9 508.5,305.9 509.2,305.9 509.9,305.9 510.6,305.9 511.3,305.9 512.0,305.9 512.7,305.9 513.4,305.9 514.1,305.9 514.8,305.9 515.5,305.9 516.3,305.9 517.0,305.9 517.7,305.9 518.4,305.9 519.1,305.9 519.8,305.9 520.5,305.9 521.2,305.9 521.9,305.9 522.6,305.9 523.3,305.9 524.0,305.9 524.7,305.9 525.4,305.9 526.1,305.9 526.8,306.0 527.5,306.0 528.2,306.0 528.9,306.0 529.6,306.1 530.3,306.1 531.0,306.1 531.7,306.2 532.4,306.2 533.1,306.3 533.8,306.3 534.5,306.4" fill="none" stroke="#ff22ff" stroke-width="1.7" stroke-linejoin="round" stroke-linecap="round"/>
<path d="M70.5,35.6 71.3,35.6 72.0,35.7 72.7,35.7 73.4,35.7 74.2,35.7 74.9,35.7 75.6,35.8 76.3,35.8 77.0,35.8 77.8,35.8 78.5,35.8 79.2,35.9 79.9,35.9 80.6,35.9 81.4,35.9 82.1,35.9 82.8,35.9 83.5,35.9 84.2,35.9 85.0,36.0 85.7,36.0 86.4,36.0 87.1,36.0 87.8,36.0 88.6,36.0 89.3,36.0 90.0,36.0 90.7,36.0 91.4,36.0 92.2,36.0 92.9,36.0 93.6,36.0 94.3,36.1 95.0,36.1 95.7,36.1 96.5,36.1 97.2,36.1 97.9,36.1 98.6,36.1 99.3,36.1 100.0,36.1 100.8,36.1 101.5,36.1 102.2,36.1 102.9,36.1 103.6,36.1 104.3,36.1 105.1,36.1 105.8,36.1 106.5,36.1 107.2,36.1 107.9,36.1 108.6,36.1 109.3,36.1 110.1,36.1 110.8,36.1 111.5,36.1 112.2,36.1 112.9,36.1 113.6,36.1 114.4,36.1 115.1,36.1 115.8,36.1 116.5,36.1 117.2,36.1 117.9,36.1 118.6,36.1 119.4,36.1 120.1,36.1 120.8,36.1 121.5,36.1 122.2,36.1 122.9,36.1 123.6,36.1 124.4,36.1 125.1,36.2 125.8,36.2 126.5,36.2 127.2,36.2 127.9,36.2 128.7,36.2 129.4,36.2 130.1,36.2 130.8,36.2 131.5,36.2 132.2,36.2 132.9,36.2 133.7,36.2 134.4,36.2 135.1,36.2 135.8,36.2 136.5,36.2 137.2,36.3 138.0,36.3 138.7,36.3 139.4,36.3 140.1,36.3 140.8,36.3 141.5,36.3 142.3,36.3 143.0,36.3 143.7,36.4 144.4,36.4 145.1,36.4 145.8,36.4 146.6,36.4 147.3,36.4 148.0,36.5 148.7,36.5 149.4,36.5 150.1,36.5 150.9,36.5 151.6,36.6 152.3,36.6 153.0,36.6 153.7,36.6 154.4,36.6 155.2,36.7 155.9,36.7 156.6,36.7 157.3,36.7 158.0,36.8 158.8,36.8 159.5,36.8 160.2,36.9 160.9,36.9 161.6,36.9 162.4,37.0 163.1,37.0 163.8,37.0 164.5,37.1 165.2,37.1 166.0,37.1 166.7,37.2 167.4,37.2 168.1,37.3 168.9,37.3 169.6,37.3 170.3,37.4 171.0,37.4 171.7,37.5 172.5,37.5 173.2,37.6 173.9,37.6 174.6,37.7 175.3,37.8 176.1,37.8 176.8,37.9 177.5,38.0 178.2,38.1 178.9,38.1 179.6,38.2 180.3,38.3 181.0,38.4 181.7,38.6 182.4,38.7 183.1,38.8 183.8,38.9 184.5,39.1 185.2,39.2 185.9,39.4 186.6,39.6 187.3,39.7 187.9,39.9 188.6,40.1 189.3,40.4 189.9,40.6 190.6,40.8 191.2,41.1 191.9,41.3 192.5,41.6 193.1,41.9 193.8,42.2 194.4,42.5 195.0,42.8 195.6,43.2 196.2,43.5 196.8,43.9 197.4,44.3 198.0,44.7 198.6,45.1 199.1,45.6 199.7,46.0 200.3,46.5 200.8,47.0 201.3,47.5 201.9,48.0 202.4,48.5 202.9,49.0 203.4,49.6 203.8,50.1 204.3,50.7 204.8,51.3 205.2,51.9 205.6,52.5 206.0,53.1 206.4,53.7 206.8,54.3 207.1,54.9 207.5,55.6 207.8,56.2 208.1,56.9 208.4,57.5 208.7,58.2 209.0,58.8 209.2,59.5 209.5,60.1 209.7,60.8 210.0,61.5 210.2,62.1 210.4,62.8 210.6,63.5 210.9,64.2 211.1,64.9 211.3,65.5 211.5,66.2 211.6,66.9 211.8,67.6 212.0,68.3 212.2,69.0 212.3,69.7 212.5,70.4 212.7,71.0 212.8,71.7 213.0,72.4 213.1,73.1 213.3,73.8 213.4,74.5 213.6,75.2 213.7,75.9 213.8,76.6 214.0,77.3 214.1,78.0 214.2,78.7 214.3,79.4 214.5,80.1 214.6,80.8 214.7,81.5 214.8,82.3 214.9,83.0 215.1,83.7 215.2,84.4 215.3,85.1 215.4,85.8 215.5,86.5 215.6,87.2 215.7,87.9 215.9,88.6 216.0,89.3 216.1,90.0 216.2,90.7 216.3,91.4 216.4,92.2 216.5,92.9 216.6,93.6 216.7,94.3 216.8,95.0 216.9,95.7 217.0,96.4 217.1,97.1 217.2,97.8 217.3,98.5 217.4,99.3 217.5,100.0 217.6,100.7 217.7,101.4 217.8,102.1 217.9,102.8 218.0,103.5 218.1,104.2 218.2,104.9 218.3,105.7 218.4,106.4 218.5,107.1 218.6,107.8 218.7,108.5 218.8,109.2 218.9,109.9 219.0,110.6 219.1,111.4 219.2,112.1 219.3,112.8 219.4,113.5 219.5,114.2 219.5,114.9 219.6,115.6 219.7,116.4 219.8,117.1 219.9,117.8 220.0,118.5 220.1,119.2 220.2,119.9 220.3,120.6 220.4,121.3 220.5,122.1 220.6,122.8 220.7,123.5 220.8,124.2 220.9,124.9 221.0,125.6 221.1,126.3 221.2,127.0 221.3,127.7 221.4,128.5 221.5,129.2 221.6,129.9 221.7,130.6 221.8,131.3 221.9,132.0 222.0,132.7 222.1,133.4 222.2,134.1 222.3,134.9 222.4,135.6 222.5,136.3 222.7,137.0 222.8,137.7 222.9,138.4 223.0,139.1 223.1,139.8 223.2,140.5 223.3,141.2 223.4,141.9 223.6,142.6 223.7,143.3 223.8,144.1 223.9,144.8 224.0,145.5 224.2,146.2 224.3,146.9 224.4,147.6 224.5,148.3 224.7,149.0 224.8,149.7 224.9,150.4 225.0,151.1 225.2,151.8 225.3,152.5 225.4,153.2 225.6,153.9 225.7,154.6 225.8,155.3 226.0,156.0 226.1,156.7 226.3,157.4 226.4,158.1 226.6,158.8 226.7,159.5 226.9,160.2 227.0,160.9 227.2,161.6 227.3,162.3 227.5,163.0 227.6,163.7 227.8,164.4 228.0,165.1 228.1,165.7 228.3,166.4 228.5,167.1 228.6,167.8 228.8,168.5 229.0,169.2 229.1,169.9 229.3,170.6 229.5,171.3 229.7,172.0 229.9,172.6 230.1,173.3 230.2,174.0 230.4,174.7 230.6,175.4 230.8,176.1 231.0,176.8 231.2,177.4 231.4,178.1 231.6,178.8 231.8,179.5 232.0,180.2 232.2,180.9 232.4,181.6 232.6,182.3 232.8,182.9 233.0,183.6 233.2,184.3 233.4,185.0 233.6,185.7 233.8,186.4 234.0,187.1 234.2,187.8 234.4,188.5 234.6,189.2 234.8,189.9 235.0,190.6 235.2,191.3 235.4,192.0 235.6,192.7 235.8,193.4 236.0,194.1 236.2,194.9 236.4,195.6 236.6,196.3 236.8,197.0 237.0,197.7 237.2,198.4 237.4,199.2 237.7,199.9 237.9,200.6 238.1,201.3 238.3,202.0 238.6,202.7 238.8,203.3 239.1,204.0 239.3,204.7 239.6,205.3 239.9,206.0 240.2,206.6 240.5,207.2 240.8,207.8 241.2,208.4 241.5,209.0 241.9,209.5 242.3,210.0 242.7,210.6 243.2,211.0 243.6,211.5 244.1,212.0 244.6,212.4 245.1,212.8 245.6,213.2 246.2,213.6 246.8,213.9 247.3,214.3 248.0,214.6 248.6,214.9 249.2,215.2 249.8,215.5 250.5,215.8 251.2,216.0 251.8,216.3 252.5,216.5 253.2,216.7 253.9,216.9 254.6,217.1 255.3,217.3 256.0,217.5 256.7,217.7 257.4,217.9 258.1,218.1 258.9,218.3 259.6,218.5 260.3,218.7 261.0,218.8 261.7,219.0 262.5,219.2 263.2,219.4 263.9,219.6 264.6,219.8 265.3,220.0 266.0,220.2 266.7,220.4 267.4,220.6 268.1,220.9 268.7,221.1 269.4,221.4 270.1,221.6 270.7,221.9 271.4,222.2 272.0,222.5 272.6,222.9 273.2,223.2 273.9,223.5 274.5,223.9 275.1,224.3 275.6,224.6 276.2,225.0 276.8,225.4 277.4,225.9 277.9,226.3 278.5,226.7 279.0,227.2 279.5,227.6 280.1,228.1 280.6,228.6 281.1,229.1 281.6,229.5 282.1,230.0 282.6,230.6 283.1,231.1 283.6,231.6 284.1,232.1 284.5,232.7 285.0,233.2 285.5,233.8 285.9,234.3 286.3,234.9 286.8,235.5 287.2,236.0 287.6,236.6 288.1,237.2 288.5,237.8 288.9,238.4 289.3,239.0 289.7,239.6 290.1,240.2 290.5,240.8 290.8,241.4 291.2,242.1 291.6,242.7 292.0,243.3 292.3,243.9 292.7,244.6 293.0,245.2 293.4,245.8 293.7,246.5 294.1,247.1 294.4,247.7 294.7,248.4 295.1,249.0 295.4,249.7 295.7,250.3 296.0,250.9 296.3,251.6 296.6,252.2 296.9,252.9 297.2,253.5 297.5,254.2 297.8,254.8 298.1,255.5 298.4,256.1 298.7,256.8 299.0,257.4 299.3,258.1 299.6,258.7 299.8,259.4 300.1,260.0 300.4,260.7 300.7,261.3 301.0,262.0 301.2,262.7 301.5,263.3 301.8,264.0 302.0,264.6 302.3,265.3 302.6,265.9 302.9,266.6 303.1,267.3 303.4,267.9 303.7,268.6 303.9,269.2 304.2,269.9 304.5,270.5 304.8,271.2 305.0,271.9 305.3,272.5 305.6,273.2 305.9,273.8 306.2,274.5 306.4,275.2 306.7,275.8 307.0,276.5 307.3,277.1 307.6,277.8 307.9,278.5 308.2,279.1 308.5,279.8 308.8,280.4 309.1,281.1 309.4,281.7 309.7,282.4 310.0,283.1 310.4,283.7 310.7,284.4 311.0,285.0 311.3,285.7 311.7,286.3 312.0,287.0 312.4,287.6 312.7,288.2 313.1,288.9 313.4,289.5 313.8,290.1 314.2,290.7 314.6,291.4 315.0,292.0 315.4,292.6 315.8,293.2 316.2,293.7 316.6,294.3 317.1,294.9 317.5,295.4 318.0,296.0 318.4,296.5 318.9,297.0 319.4,297.5 319.9,298.0 320.4,298.5 320.9,299.0 321.5,299.5 322.0,299.9 322.6,300.4 323.1,300.8 323.7,301.2 324.3,301.5 324.9,301.9 325.5,302.2 326.1,302.6 326.8,302.8 327.4,303.1 328.1,303.4 328.7,303.6 329.4,303.8 330.1,304.0 330.8,304.2 331.5,304.4 332.2,304.5 332.9,304.7 333.6,304.8 334.3,305.0 335.0,305.1 335.7,305.2 336.4,305.4 337.1,305.5 337.8,305.6 338.5,305.7 339.2,305.8 339.9,305.9 340.7,306.0 341.4,306.1 342.1,306.2 342.8,306.2 343.5,306.3 344.2,306.4 344.9,306.5 345.6,306.5 346.4,306.6 347.1,306.7 347.8,306.7 348.5,306.8 349.2,306.8 349.9,306.9 350.7,306.9 351.4,306.9 352.1,307.0 352.8,307.0 353.5,307.0 354.2,307.1 355.0,307.1 355.7,307.1 356.4,307.1 357.1,307.1 357.8,307.1 358.5,307.1 359.3,307.1 360.0,307.1 360.7,307.1 361.4,307.1 362.1,307.1 362.8,307.1 363.6,307.1 364.3,307.1 365.0,307.1 365.7,307.1 366.4,307.1 367.2,307.0 367.9,307.0 368.6,307.0 369.3,307.0 370.0,306.9 370.8,306.9 371.5,306.9 372.2,306.8 372.9,306.8 373.6,306.8 374.3,306.7 375.1,306.7 375.8,306.7 376.5,306.6 377.2,306.6 377.9,306.5 378.6,306.5 379.4,306.4 380.1,306.4 380.8,306.3 381.5,306.3 382.2,306.2 382.9,306.2 383.7,306.1 384.4,306.1 385.1,306.0 385.8,306.0 386.5,305.9 387.2,305.9 387.9,305.8 388.7,305.8 389.4,305.7 390.1,305.7 390.8,305.6 391.5,305.6 392.2,305.5 392.9,305.5 393.6,305.4 394.4,305.4 395.1,305.3 395.8,305.3 396.5,305.2 397.2,305.2 397.9,305.2 398.6,305.1 399.4,305.1 400.1,305.0 400.8,305.0 401.5,305.0 402.2,304.9 402.9,304.9 403.6,304.9 404.3,304.8 405.1,304.8 405.8,304.8 406.5,304.7 407.2,304.7 407.9,304.7 408.6,304.7 409.3,304.7 410.0,304.6 410.8,304.6 411.5,304.6 412.2,304.6 412.9,304.6 413.6,304.6 414.3,304.6 415.0,304.6 415.8,304.6 416.5,304.6 417.2,304.7 417.9,304.7 418.6,304.7 419.3,304.7 420.0,304.7 420.8,304.8 421.5,304.8 422.2,304.8 422.9,304.9 423.6,304.9 424.3,305.0 425.1,305.0 425.8,305.1 426.5,305.2 427.2,305.2 427.9,305.3 428.6,305.4 429.4,305.4 430.1,305.5 430.8,305.6 431.5,305.7 432.2,305.8 432.9,305.9 433.6,306.0 434.4,306.1 435.1,306.2 435.8,306.4 436.5,306.5 437.2,306.6 437.9,306.8 438.6,306.9 439.3,307.1 440.0,307.2 440.7,307.4 441.4,307.6 442.1,307.7 442.8,307.9 443.5,308.1 444.2,308.3 444.9,308.5 445.6,308.7 446.3,308.9 447.0,309.1 447.6,309.3 448.3,309.5 449.0,309.7 449.7,309.9 450.4,310.1 451.1,310.3 451.8,310.5 452.4,310.7 453.1,310.9 453.8,311.1 454.5,311.3 455.2,311.5 455.9,311.6 456.6,311.8 457.3,312.0 458.0,312.1 458.7,312.3 459.4,312.4 460.1,312.5 460.8,312.7 461.5,312.8 462.2,312.9 462.9,313.0 463.6,313.1 464.3,313.2 465.0,313.3 465.7,313.4 466.4,313.5 467.1,313.6 467.8,313.7 468.5,313.7 469.2,313.8 470.0,313.9 470.7,313.9 471.4,314.0 472.1,314.1 472.8,314.1 473.5,314.2 474.2,314.2 474.9,314.2 475.7,314.3 476.4,314.3 477.1,314.3 477.8,314.4 478.5,314.4 479.2,314.4 480.0,314.4 480.7,314.5 481.4,314.5 482.1,314.5 482.8,314.5 483.6,314.5 484.3,314.5 485.0,314.5 485.7,314.5 486.4,314.6 487.2,314.6 487.9,314.6 488.6,314.6 489.3,314.6 490.0,314.6 490.8,314.6 491.5,314.6 492.2,314.6 492.9,314.6 493.6,314.6 494.4,314.6 495.1,314.6 495.8,314.6 496.5,314.6 497.2,314.6 498.0,314.6 498.7,314.6 499.4,314.6 500.1,314.6 500.8,314.6 501.5,314.6 502.3,314.6 503.0,314.6 503.7,314.6 504.4,314.6 505.1,314.6 505.8,314.6 506.5,314.6 507.3,314.7 508.0,314.7 508.7,314.7 509.4,314.7 510.1,314.7 510.8,314.7 511.6,314.7 512.3,314.7 513.0,314.7 513.7,314.7 514.4,314.7 515.1,314.7 515.8,314.7 516.6,314.8 517.3,314.8 518.0,314.8 518.7,314.8 519.4,314.8 520.1,314.8 520.9,314.8 521.6,314.8 522.3,314.8 523.0,314.8 523.7,314.8 524.4,314.8 525.2,314.8 525.9,314.8 526.6,314.9 527.3,314.9 528.0,314.9 528.8,314.9 529.5,314.9 530.2,314.9 530.9,314.9 531.6,314.9 532.4,314.9 533.1,314.9 533.8,314.9 534.5,314.9" fill="none" stroke="#ff8c1a" stroke-width="1.7" stroke-linejoin="round" stroke-linecap="round"/>
<rect x="56.5" y="6.43" width="478.30" height="328.57" fill="none" stroke="#2a2a2a" stroke-width="1.3"/>
<path d="M50.5,335.00H56.5 M50.5,275.26H56.5 M50.5,215.52H56.5 M50.5,155.78H56.5 M50.5,96.04H56.5 M50.5,36.30H56.5 M53.5,305.13H56.5 M53.5,245.39H56.5 M53.5,185.65H56.5 M53.5,125.91H56.5 M53.5,66.17H56.5 M53.5,6.43H56.5 M56.50,335.0V340.5 M109.64,335.0V340.5 M162.79,335.0V340.5 M215.93,335.0V340.5 M269.08,335.0V340.5 M322.22,335.0V340.5 M375.37,335.0V340.5 M428.51,335.0V340.5 M481.66,335.0V340.5 M534.80,335.0V340.5 M83.07,335.0V337.6 M136.22,335.0V337.6 M189.36,335.0V337.6 M242.51,335.0V337.6 M295.65,335.0V337.6 M348.79,335.0V337.6 M401.94,335.0V337.6 M455.08,335.0V337.6 M508.23,335.0V337.6" stroke="#2a2a2a" stroke-width="1.3" fill="none"/>
<text class="tl" transform="translate(46.4,339.00) scale(1,1.04)" text-anchor="end">0</text>
<text class="tl" transform="translate(46.4,279.26) scale(1,1.04)" text-anchor="end">20</text>
<text class="tl" transform="translate(46.4,219.52) scale(1,1.04)" text-anchor="end">40</text>
<text class="tl" transform="translate(46.4,159.78) scale(1,1.04)" text-anchor="end">60</text>
<text class="tl" transform="translate(46.4,100.04) scale(1,1.04)" text-anchor="end">80</text>
<text class="tl" transform="translate(46.4,40.30) scale(1,1.04)" text-anchor="end">100</text>
<text class="tl" x="56.50" y="353" style="font-size:11.5px" text-anchor="middle">0</text>
<text class="tl" x="109.64" y="353" style="font-size:11.5px" text-anchor="middle">100</text>
<text class="tl" x="162.79" y="353" style="font-size:11.5px" text-anchor="middle">200</text>
<text class="tl" x="215.93" y="353" style="font-size:11.5px" text-anchor="middle">300</text>
<text class="tl" x="269.08" y="353" style="font-size:11.5px" text-anchor="middle">400</text>
<text class="tl" x="322.22" y="353" style="font-size:11.5px" text-anchor="middle">500</text>
<text class="tl" x="375.37" y="353" style="font-size:11.5px" text-anchor="middle">600</text>
<text class="tl" x="428.51" y="353" style="font-size:11.5px" text-anchor="middle">700</text>
<text class="tl" x="481.66" y="353" style="font-size:11.5px" text-anchor="middle">800</text>
<text class="tl" x="534.80" y="353" style="font-size:11.5px" text-anchor="middle">900</text>
<text class="ti" x="296" y="379.9" text-anchor="middle">Temperature, <tspan dy="-6.8" font-size="11.5">o</tspan><tspan dy="6.8">C</tspan></text>
<text class="ti" style="font-size:17.3px" transform="translate(21.8,170.2) rotate(-90)" text-anchor="middle">Mass, %</text>
<line x1="464.3" y1="24.20" x2="496.5" y2="24.20" stroke="#111111" stroke-width="1.8"/>
<text class="lg" x="499.8" y="29.70">1</text>
<line x1="464.3" y1="41.45" x2="496.5" y2="41.45" stroke="#ff1a1a" stroke-width="1.8"/>
<text class="lg" x="499.8" y="46.95">2</text>
<line x1="464.3" y1="58.70" x2="496.5" y2="58.70" stroke="#22ee22" stroke-width="1.8"/>
<text class="lg" x="499.8" y="64.20">3</text>
<line x1="464.3" y1="75.95" x2="496.5" y2="75.95" stroke="#1a1aff" stroke-width="1.8"/>
<text class="lg" x="499.8" y="81.45">4</text>
<line x1="464.3" y1="93.20" x2="496.5" y2="93.20" stroke="#22ffff" stroke-width="1.8"/>
<text class="lg" x="499.8" y="98.70">5</text>
<line x1="464.3" y1="110.45" x2="496.5" y2="110.45" stroke="#ff22ff" stroke-width="1.8"/>
<text class="lg" x="499.8" y="115.95">6</text>
<line x1="464.3" y1="127.70" x2="496.5" y2="127.70" stroke="#ff8c1a" stroke-width="1.8"/>
<text class="lg" x="499.8" y="133.20">7</text>
</svg></body></html>
